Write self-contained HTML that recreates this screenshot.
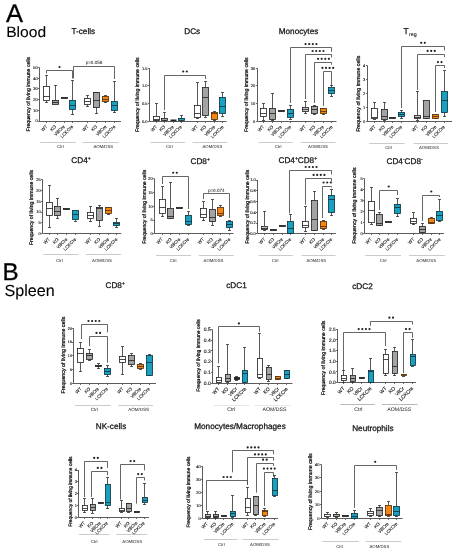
<!DOCTYPE html>
<html><head><meta charset="utf-8"><style>
html,body{margin:0;padding:0;background:#fff;width:456px;height:550px;overflow:hidden}
svg{display:block;font-family:"Liberation Sans", sans-serif;will-change:transform;text-rendering:geometricPrecision}
</style></head><body>
<svg width="456" height="550" viewBox="0 0 456 550" font-family='"Liberation Sans", sans-serif'>
<rect width="456" height="550" fill="#fff"/>
<text x="6.0" y="21.7" font-size="25.5" text-anchor="start" fill="#000" stroke="#000" stroke-width="0.3">A</text>
<text x="6.2" y="37.3" font-size="15.0" text-anchor="start" fill="#000" stroke="#000" stroke-width="0.08" textLength="40" lengthAdjust="spacingAndGlyphs">Blood</text>
<text x="2.6" y="280.1" font-size="24.2" text-anchor="start" fill="#000" stroke="#000" stroke-width="0.3">B</text>
<text x="4.6" y="295.6" font-size="16.1" text-anchor="start" fill="#000" stroke="#000" stroke-width="0.1">Spleen</text>
<path d="M39.5,67.5 V121.5 H121" fill="none" stroke="#4a4a4a" stroke-width="0.9"/>
<path d="M38.0,67.5 H39.5" stroke="#4a4a4a" stroke-width="0.8"/>
<text x="37.7" y="68.9" font-size="4.0" text-anchor="end" fill="#222" stroke="#222" stroke-width="0.15">50</text>
<path d="M38.0,78.5 H39.5" stroke="#4a4a4a" stroke-width="0.8"/>
<text x="37.7" y="79.60000000000001" font-size="4.0" text-anchor="end" fill="#222" stroke="#222" stroke-width="0.15">40</text>
<path d="M38.0,88.5 H39.5" stroke="#4a4a4a" stroke-width="0.8"/>
<text x="37.7" y="90.30000000000001" font-size="4.0" text-anchor="end" fill="#222" stroke="#222" stroke-width="0.15">30</text>
<path d="M38.0,99.5 H39.5" stroke="#4a4a4a" stroke-width="0.8"/>
<text x="37.7" y="101.0" font-size="4.0" text-anchor="end" fill="#222" stroke="#222" stroke-width="0.15">20</text>
<path d="M38.0,110.5 H39.5" stroke="#4a4a4a" stroke-width="0.8"/>
<text x="37.7" y="111.7" font-size="4.0" text-anchor="end" fill="#222" stroke="#222" stroke-width="0.15">10</text>
<path d="M38.0,121.5 H39.5" stroke="#4a4a4a" stroke-width="0.8"/>
<text x="37.7" y="122.4" font-size="4.0" text-anchor="end" fill="#222" stroke="#222" stroke-width="0.15">0</text>
<path d="M46.5,121.5 V123.0" stroke="#4a4a4a" stroke-width="0.8"/>
<path d="M46.5,75.5 V86.25 M45.0,75.5 H48.0" stroke="#3a3a3a" stroke-width="0.85"/>
<path d="M46.5,100.5 V102.5 M45.0,102.5 H48.0" stroke="#3a3a3a" stroke-width="0.85"/>
<rect x="43.5" y="86.5" width="6.0" height="14.0" fill="#ffffff" stroke="#1e1e1e" stroke-width="0.8"/>
<path d="M43.5,96.5 H49.5" stroke="#1e1e1e" stroke-width="0.8"/>
<text x="47.70" y="126.90" font-size="4.5" text-anchor="end" fill="#222" stroke="#222" stroke-width="0.14" transform="rotate(-45 47.70 126.90)">WT</text>
<path d="M55.5,121.5 V123.0" stroke="#4a4a4a" stroke-width="0.8"/>
<path d="M55.5,85.5 V100 M54.0,85.5 H57.0" stroke="#3a3a3a" stroke-width="0.85"/>
<rect x="52.5" y="100.5" width="6.0" height="4.0" fill="#a3a3a3" stroke="#1e1e1e" stroke-width="0.8"/>
<path d="M52.5,102.5 H58.5" stroke="#1e1e1e" stroke-width="0.8"/>
<text x="56.50" y="126.90" font-size="4.5" text-anchor="end" fill="#222" stroke="#222" stroke-width="0.14" transform="rotate(-45 56.50 126.90)">KO</text>
<path d="M64.5,121.5 V123.0" stroke="#4a4a4a" stroke-width="0.8"/>
<rect x="61.5" y="97.5" width="6.0" height="1.0" fill="#222" stroke="#1e1e1e" stroke-width="0.8"/>
<text x="65.20" y="126.90" font-size="4.5" text-anchor="end" fill="#222" stroke="#222" stroke-width="0.14" transform="rotate(-45 65.20 126.90)">VillCre</text>
<path d="M72.5,121.5 V123.0" stroke="#4a4a4a" stroke-width="0.8"/>
<path d="M72.5,80.5 V100 M71.0,80.5 H74.0" stroke="#3a3a3a" stroke-width="0.85"/>
<path d="M72.5,109.5 V114.5 M71.0,114.5 H74.0" stroke="#3a3a3a" stroke-width="0.85"/>
<rect x="69.5" y="100.5" width="6.0" height="9.0" fill="#17a0bf" stroke="#0c2c38" stroke-width="0.8"/>
<path d="M69.5,105.5 H75.5" stroke="#0c2c38" stroke-width="0.8"/>
<text x="73.60" y="126.90" font-size="4.5" text-anchor="end" fill="#222" stroke="#222" stroke-width="0.14" transform="rotate(-45 73.60 126.90)">LCKCre</text>
<path d="M87.5,121.5 V123.0" stroke="#4a4a4a" stroke-width="0.8"/>
<path d="M87.5,95.5 V98.75 M86.0,95.5 H89.0" stroke="#3a3a3a" stroke-width="0.85"/>
<path d="M87.5,104.5 V106.5 M86.0,106.5 H89.0" stroke="#3a3a3a" stroke-width="0.85"/>
<rect x="84.5" y="98.5" width="6.0" height="6.0" fill="#ffffff" stroke="#1e1e1e" stroke-width="0.8"/>
<path d="M84.5,101.5 H90.5" stroke="#1e1e1e" stroke-width="0.8"/>
<text x="89.00" y="126.90" font-size="4.5" text-anchor="end" fill="#222" stroke="#222" stroke-width="0.14" transform="rotate(-45 89.00 126.90)">WT</text>
<path d="M96.5,121.5 V123.0" stroke="#4a4a4a" stroke-width="0.8"/>
<path d="M96.5,92.5 V92.5 M95.0,92.5 H98.0" stroke="#3a3a3a" stroke-width="0.85"/>
<path d="M96.5,107.5 V113.5 M95.0,113.5 H98.0" stroke="#3a3a3a" stroke-width="0.85"/>
<rect x="93.5" y="92.5" width="6.0" height="15.0" fill="#a3a3a3" stroke="#1e1e1e" stroke-width="0.8"/>
<path d="M93.5,100.5 H99.5" stroke="#1e1e1e" stroke-width="0.8"/>
<text x="97.60" y="126.90" font-size="4.5" text-anchor="end" fill="#222" stroke="#222" stroke-width="0.14" transform="rotate(-45 97.60 126.90)">KO</text>
<path d="M105.5,121.5 V123.0" stroke="#4a4a4a" stroke-width="0.8"/>
<path d="M105.5,95.5 V96.75 M104.0,95.5 H107.0" stroke="#3a3a3a" stroke-width="0.85"/>
<path d="M105.5,101.25 V102.5 M104.0,102.5 H107.0" stroke="#3a3a3a" stroke-width="0.85"/>
<rect x="102.5" y="96.5" width="6.0" height="5.0" fill="#f7860f" stroke="#4a2a08" stroke-width="0.8"/>
<path d="M102.5,99.5 H108.5" stroke="#4a2a08" stroke-width="0.8"/>
<text x="107.00" y="126.90" font-size="4.5" text-anchor="end" fill="#222" stroke="#222" stroke-width="0.14" transform="rotate(-45 107.00 126.90)">VillCre</text>
<path d="M114.5,121.5 V123.0" stroke="#4a4a4a" stroke-width="0.8"/>
<path d="M114.5,81.5 V101.25 M113.0,81.5 H116.0" stroke="#3a3a3a" stroke-width="0.85"/>
<path d="M114.5,110.75 V112.5 M113.0,112.5 H116.0" stroke="#3a3a3a" stroke-width="0.85"/>
<rect x="111.5" y="101.5" width="6.0" height="9.0" fill="#17a0bf" stroke="#0c2c38" stroke-width="0.8"/>
<path d="M111.5,105.5 H117.5" stroke="#0c2c38" stroke-width="0.8"/>
<text x="115.70" y="126.90" font-size="4.5" text-anchor="end" fill="#222" stroke="#222" stroke-width="0.14" transform="rotate(-45 115.70 126.90)">LCKCre</text>
<path d="M46.5,73.5 V70.5 H72.5 V78.5" fill="none" stroke="#4a4a4a" stroke-width="0.85"/>
<circle cx="59.50" cy="67.0" r="1.1" fill="#222"/>
<path d="M73.5,78.5 V66.5 H114.5 V79" fill="none" stroke="#4a4a4a" stroke-width="0.85"/>
<text x="94" y="63.6" font-size="4.6" text-anchor="middle" fill="#333" stroke="#333" stroke-width="0.05">p=0.058</text>
<path d="M40.3,142.5 H75.8 M82.6,142.5 H118.8" stroke="#a8a8a8" stroke-width="0.6"/>
<text x="60.3" y="148.3" font-size="4.3" text-anchor="middle" fill="#1a1a1a" >Ctrl</text>
<text x="103.3" y="148.3" font-size="4.3" text-anchor="middle" fill="#1a1a1a" >AOM/DSS</text>
<text x="30.2" y="94.1" font-size="5.15" text-anchor="middle" fill="#111" stroke="#111" stroke-width="0.26" transform="rotate(-90 30.2 94.1)">Frequency of living immune cells</text>
<text x="83.3" y="34" font-size="8.2" text-anchor="middle" fill="#111" stroke="#111" stroke-width="0.25">T-cells</text>
<path d="M149.5,68.25 V121.5 H226.5" fill="none" stroke="#4a4a4a" stroke-width="0.9"/>
<path d="M148.0,68.5 H149.5" stroke="#4a4a4a" stroke-width="0.8"/>
<text x="147.45" y="69.65" font-size="4.0" text-anchor="end" fill="#222" stroke="#222" stroke-width="0.15">1.5</text>
<path d="M148.0,85.5 H149.5" stroke="#4a4a4a" stroke-width="0.8"/>
<text x="147.45" y="87.30000000000001" font-size="4.0" text-anchor="end" fill="#222" stroke="#222" stroke-width="0.15">1.0</text>
<path d="M148.0,103.5 H149.5" stroke="#4a4a4a" stroke-width="0.8"/>
<text x="147.45" y="105.0" font-size="4.0" text-anchor="end" fill="#222" stroke="#222" stroke-width="0.15">0.5</text>
<path d="M148.0,121.5 H149.5" stroke="#4a4a4a" stroke-width="0.8"/>
<text x="147.45" y="122.65" font-size="4.0" text-anchor="end" fill="#222" stroke="#222" stroke-width="0.15">0.0</text>
<path d="M156.5,121.5 V123.0" stroke="#4a4a4a" stroke-width="0.8"/>
<path d="M156.5,103.5 V116.25 M155.0,103.5 H158.0" stroke="#3a3a3a" stroke-width="0.85"/>
<path d="M156.5,120 V120.5 M155.0,120.5 H158.0" stroke="#3a3a3a" stroke-width="0.85"/>
<rect x="153.5" y="116.5" width="6.0" height="4.0" fill="#ffffff" stroke="#1e1e1e" stroke-width="0.8"/>
<path d="M153.5,119.5 H159.5" stroke="#1e1e1e" stroke-width="0.8"/>
<text x="157.35" y="127.15" font-size="4.5" text-anchor="end" fill="#222" stroke="#222" stroke-width="0.14" transform="rotate(-45 157.35 127.15)">WT</text>
<path d="M164.5,121.5 V123.0" stroke="#4a4a4a" stroke-width="0.8"/>
<path d="M164.5,112.5 V118 M163.0,112.5 H166.0" stroke="#3a3a3a" stroke-width="0.85"/>
<path d="M164.5,120 V120.5 M163.0,120.5 H166.0" stroke="#3a3a3a" stroke-width="0.85"/>
<rect x="161.5" y="118.5" width="6.0" height="2.0" fill="#a3a3a3" stroke="#1e1e1e" stroke-width="0.8"/>
<text x="165.50" y="127.15" font-size="4.5" text-anchor="end" fill="#222" stroke="#222" stroke-width="0.14" transform="rotate(-45 165.50 127.15)">KO</text>
<path d="M173.5,121.5 V123.0" stroke="#4a4a4a" stroke-width="0.8"/>
<rect x="170.5" y="119.50" width="6.0" height="1.8" fill="#222"/>
<text x="174.20" y="127.15" font-size="4.5" text-anchor="end" fill="#222" stroke="#222" stroke-width="0.14" transform="rotate(-45 174.20 127.15)">VillCre</text>
<path d="M181.5,121.5 V123.0" stroke="#4a4a4a" stroke-width="0.8"/>
<path d="M181.5,115.5 V118.5 M180.0,115.5 H183.0" stroke="#3a3a3a" stroke-width="0.85"/>
<path d="M181.5,120.5 V121.5 M180.0,121.5 H183.0" stroke="#3a3a3a" stroke-width="0.85"/>
<rect x="178.5" y="118.5" width="6.0" height="2.0" fill="#17a0bf" stroke="#0c2c38" stroke-width="0.8"/>
<text x="182.20" y="127.15" font-size="4.5" text-anchor="end" fill="#222" stroke="#222" stroke-width="0.14" transform="rotate(-45 182.20 127.15)">LCKCre</text>
<path d="M197.5,121.5 V123.0" stroke="#4a4a4a" stroke-width="0.8"/>
<path d="M197.5,82.5 V105.5 M196.0,82.5 H199.0" stroke="#3a3a3a" stroke-width="0.85"/>
<path d="M197.5,117.5 V118.5 M196.0,118.5 H199.0" stroke="#3a3a3a" stroke-width="0.85"/>
<rect x="194.5" y="105.5" width="6.0" height="12.0" fill="#ffffff" stroke="#1e1e1e" stroke-width="0.8"/>
<path d="M194.5,113.5 H200.5" stroke="#1e1e1e" stroke-width="0.8"/>
<text x="198.20" y="127.15" font-size="4.5" text-anchor="end" fill="#222" stroke="#222" stroke-width="0.14" transform="rotate(-45 198.20 127.15)">WT</text>
<path d="M205.5,121.5 V123.0" stroke="#4a4a4a" stroke-width="0.8"/>
<path d="M205.5,81.5 V87 M204.0,81.5 H207.0" stroke="#3a3a3a" stroke-width="0.85"/>
<path d="M205.5,115.5 V117.5 M204.0,117.5 H207.0" stroke="#3a3a3a" stroke-width="0.85"/>
<rect x="202.5" y="87.5" width="6.0" height="28.0" fill="#a3a3a3" stroke="#1e1e1e" stroke-width="0.8"/>
<path d="M202.5,97.5 H208.5" stroke="#1e1e1e" stroke-width="0.8"/>
<text x="206.50" y="127.15" font-size="4.5" text-anchor="end" fill="#222" stroke="#222" stroke-width="0.14" transform="rotate(-45 206.50 127.15)">KO</text>
<path d="M214.5,121.5 V123.0" stroke="#4a4a4a" stroke-width="0.8"/>
<path d="M214.5,111.5 V112 M213.0,111.5 H216.0" stroke="#3a3a3a" stroke-width="0.85"/>
<path d="M214.5,119.5 V120.5 M213.0,120.5 H216.0" stroke="#3a3a3a" stroke-width="0.85"/>
<rect x="211.5" y="112.5" width="6.0" height="7.0" fill="#f7860f" stroke="#4a2a08" stroke-width="0.8"/>
<path d="M211.5,113.5 H217.5" stroke="#4a2a08" stroke-width="0.8"/>
<text x="215.50" y="127.15" font-size="4.5" text-anchor="end" fill="#222" stroke="#222" stroke-width="0.14" transform="rotate(-45 215.50 127.15)">VillCre</text>
<path d="M222.5,121.5 V123.0" stroke="#4a4a4a" stroke-width="0.8"/>
<path d="M222.5,92.5 V97 M221.0,92.5 H224.0" stroke="#3a3a3a" stroke-width="0.85"/>
<path d="M222.5,113.75 V116.5 M221.0,116.5 H224.0" stroke="#3a3a3a" stroke-width="0.85"/>
<rect x="219.5" y="97.5" width="6.0" height="16.0" fill="#17a0bf" stroke="#0c2c38" stroke-width="0.8"/>
<path d="M219.5,106.5 H225.5" stroke="#0c2c38" stroke-width="0.8"/>
<text x="224.00" y="127.15" font-size="4.5" text-anchor="end" fill="#222" stroke="#222" stroke-width="0.14" transform="rotate(-45 224.00 127.15)">LCKCre</text>
<path d="M164.5,110 V75.5 H205.5 V79" fill="none" stroke="#4a4a4a" stroke-width="0.85"/>
<circle cx="183.20" cy="71.5" r="1.1" fill="#222"/>
<circle cx="186.80" cy="71.5" r="1.1" fill="#222"/>
<path d="M150.5,142.5 H185 M192.6,142.5 H227.3" stroke="#a8a8a8" stroke-width="0.6"/>
<text x="169.4" y="148.3" font-size="4.3" text-anchor="middle" fill="#1a1a1a" >Ctrl</text>
<text x="212.4" y="148.3" font-size="4.3" text-anchor="middle" fill="#1a1a1a" >AOM/DSS</text>
<text x="138.9" y="94.6" font-size="5.15" text-anchor="middle" fill="#111" stroke="#111" stroke-width="0.26" transform="rotate(-90 138.9 94.6)">Frequency of living immune cells</text>
<text x="192.2" y="34.4" font-size="8.2" text-anchor="middle" fill="#111" stroke="#111" stroke-width="0.25">DCs</text>
<path d="M257.5,68.25 V121.5 H336.5" fill="none" stroke="#4a4a4a" stroke-width="0.9"/>
<path d="M256.0,68.5 H257.5" stroke="#4a4a4a" stroke-width="0.8"/>
<text x="255.2" y="69.65" font-size="4.0" text-anchor="end" fill="#222" stroke="#222" stroke-width="0.15">30</text>
<path d="M256.0,85.5 H257.5" stroke="#4a4a4a" stroke-width="0.8"/>
<text x="255.2" y="87.30000000000001" font-size="4.0" text-anchor="end" fill="#222" stroke="#222" stroke-width="0.15">20</text>
<path d="M256.0,103.5 H257.5" stroke="#4a4a4a" stroke-width="0.8"/>
<text x="255.2" y="105.0" font-size="4.0" text-anchor="end" fill="#222" stroke="#222" stroke-width="0.15">10</text>
<path d="M256.0,121.5 H257.5" stroke="#4a4a4a" stroke-width="0.8"/>
<text x="255.2" y="122.65" font-size="4.0" text-anchor="end" fill="#222" stroke="#222" stroke-width="0.15">0</text>
<path d="M263.5,121.5 V123.0" stroke="#4a4a4a" stroke-width="0.8"/>
<path d="M263.5,103.5 V108.3 M262.0,103.5 H265.0" stroke="#3a3a3a" stroke-width="0.85"/>
<path d="M263.5,116.5 V120.5 M262.0,120.5 H265.0" stroke="#3a3a3a" stroke-width="0.85"/>
<rect x="260.5" y="108.5" width="6.0" height="8.0" fill="#ffffff" stroke="#1e1e1e" stroke-width="0.8"/>
<path d="M260.5,113.5 H266.5" stroke="#1e1e1e" stroke-width="0.8"/>
<text x="264.50" y="127.15" font-size="4.5" text-anchor="end" fill="#222" stroke="#222" stroke-width="0.14" transform="rotate(-45 264.50 127.15)">WT</text>
<path d="M272.5,121.5 V123.0" stroke="#4a4a4a" stroke-width="0.8"/>
<path d="M272.5,93.5 V108.3 M271.0,93.5 H274.0" stroke="#3a3a3a" stroke-width="0.85"/>
<path d="M272.5,119.4 V120.5 M271.0,120.5 H274.0" stroke="#3a3a3a" stroke-width="0.85"/>
<rect x="269.5" y="108.5" width="6.0" height="11.0" fill="#a3a3a3" stroke="#1e1e1e" stroke-width="0.8"/>
<path d="M269.5,113.5 H275.5" stroke="#1e1e1e" stroke-width="0.8"/>
<text x="273.75" y="127.15" font-size="4.5" text-anchor="end" fill="#222" stroke="#222" stroke-width="0.14" transform="rotate(-45 273.75 127.15)">KO</text>
<path d="M281.5,121.5 V123.0" stroke="#4a4a4a" stroke-width="0.8"/>
<rect x="278.5" y="110.5" width="6.0" height="1.0" fill="#222" stroke="#1e1e1e" stroke-width="0.8"/>
<text x="282.20" y="127.15" font-size="4.5" text-anchor="end" fill="#222" stroke="#222" stroke-width="0.14" transform="rotate(-45 282.20 127.15)">VillCre</text>
<path d="M290.5,121.5 V123.0" stroke="#4a4a4a" stroke-width="0.8"/>
<path d="M290.5,105.5 V109.5 M289.0,105.5 H292.0" stroke="#3a3a3a" stroke-width="0.85"/>
<path d="M290.5,117.5 V119.5 M289.0,119.5 H292.0" stroke="#3a3a3a" stroke-width="0.85"/>
<rect x="287.5" y="109.5" width="6.0" height="8.0" fill="#17a0bf" stroke="#0c2c38" stroke-width="0.8"/>
<path d="M287.5,113.5 H293.5" stroke="#0c2c38" stroke-width="0.8"/>
<text x="291.50" y="127.15" font-size="4.5" text-anchor="end" fill="#222" stroke="#222" stroke-width="0.14" transform="rotate(-45 291.50 127.15)">LCKCre</text>
<path d="M305.5,121.5 V123.0" stroke="#4a4a4a" stroke-width="0.8"/>
<path d="M305.5,101.5 V107.5 M304.0,101.5 H307.0" stroke="#3a3a3a" stroke-width="0.85"/>
<path d="M305.5,111.25 V113.5 M304.0,113.5 H307.0" stroke="#3a3a3a" stroke-width="0.85"/>
<rect x="302.5" y="107.5" width="6.0" height="4.0" fill="#c8c8c8" stroke="#1e1e1e" stroke-width="0.8"/>
<path d="M302.5,109.5 H308.5" stroke="#1e1e1e" stroke-width="0.8"/>
<text x="306.10" y="127.15" font-size="4.5" text-anchor="end" fill="#222" stroke="#222" stroke-width="0.14" transform="rotate(-45 306.10 127.15)">WT</text>
<path d="M314.5,121.5 V123.0" stroke="#4a4a4a" stroke-width="0.8"/>
<path d="M314.5,105.5 V106.25 M313.0,105.5 H316.0" stroke="#3a3a3a" stroke-width="0.85"/>
<path d="M314.5,113.25 V114.5 M313.0,114.5 H316.0" stroke="#3a3a3a" stroke-width="0.85"/>
<rect x="311.5" y="106.5" width="6.0" height="7.0" fill="#a3a3a3" stroke="#1e1e1e" stroke-width="0.8"/>
<path d="M311.5,109.5 H317.5" stroke="#1e1e1e" stroke-width="0.8"/>
<text x="315.50" y="127.15" font-size="4.5" text-anchor="end" fill="#222" stroke="#222" stroke-width="0.14" transform="rotate(-45 315.50 127.15)">KO</text>
<path d="M323.5,121.5 V123.0" stroke="#4a4a4a" stroke-width="0.8"/>
<path d="M323.5,108.5 V108.75 M322.0,108.5 H325.0" stroke="#3a3a3a" stroke-width="0.85"/>
<path d="M323.5,113.75 V114.5 M322.0,114.5 H325.0" stroke="#3a3a3a" stroke-width="0.85"/>
<rect x="320.5" y="108.5" width="6.0" height="5.0" fill="#f7860f" stroke="#4a2a08" stroke-width="0.8"/>
<path d="M320.5,111.5 H326.5" stroke="#4a2a08" stroke-width="0.8"/>
<text x="324.20" y="127.15" font-size="4.5" text-anchor="end" fill="#222" stroke="#222" stroke-width="0.14" transform="rotate(-45 324.20 127.15)">VillCre</text>
<path d="M331.5,121.5 V123.0" stroke="#4a4a4a" stroke-width="0.8"/>
<path d="M331.5,85.5 V87 M330.0,85.5 H333.0" stroke="#3a3a3a" stroke-width="0.85"/>
<path d="M331.5,93 V96.5 M330.0,96.5 H333.0" stroke="#3a3a3a" stroke-width="0.85"/>
<rect x="328.5" y="87.5" width="6.0" height="6.0" fill="#17a0bf" stroke="#0c2c38" stroke-width="0.8"/>
<path d="M328.5,90.5 H334.5" stroke="#0c2c38" stroke-width="0.8"/>
<text x="333.00" y="127.15" font-size="4.5" text-anchor="end" fill="#222" stroke="#222" stroke-width="0.14" transform="rotate(-45 333.00 127.15)">LCKCre</text>
<path d="M290.5,103 V47.5 H331.5 V51.8" fill="none" stroke="#4a4a4a" stroke-width="0.85"/>
<circle cx="305.60" cy="44.1" r="1.1" fill="#222"/>
<circle cx="309.20" cy="44.1" r="1.1" fill="#222"/>
<circle cx="312.80" cy="44.1" r="1.1" fill="#222"/>
<circle cx="316.40" cy="44.1" r="1.1" fill="#222"/>
<path d="M305.5,99 V54.5 H331.5 V57.5" fill="none" stroke="#4a4a4a" stroke-width="0.85"/>
<circle cx="312.60" cy="51.0" r="1.1" fill="#222"/>
<circle cx="316.20" cy="51.0" r="1.1" fill="#222"/>
<circle cx="319.80" cy="51.0" r="1.1" fill="#222"/>
<circle cx="323.40" cy="51.0" r="1.1" fill="#222"/>
<path d="M314.5,103 V62.5 H331.5 V64.8" fill="none" stroke="#4a4a4a" stroke-width="0.85"/>
<circle cx="318.10" cy="58.8" r="1.1" fill="#222"/>
<circle cx="321.70" cy="58.8" r="1.1" fill="#222"/>
<circle cx="325.30" cy="58.8" r="1.1" fill="#222"/>
<circle cx="328.90" cy="58.8" r="1.1" fill="#222"/>
<path d="M323.5,106 V71.5 H331.5 V85" fill="none" stroke="#4a4a4a" stroke-width="0.85"/>
<circle cx="322.40" cy="67.9" r="1.1" fill="#222"/>
<circle cx="326.00" cy="67.9" r="1.1" fill="#222"/>
<circle cx="329.60" cy="67.9" r="1.1" fill="#222"/>
<circle cx="333.20" cy="67.9" r="1.1" fill="#222"/>
<path d="M258.8,142.5 H292.8 M300.9,142.5 H335.5" stroke="#a8a8a8" stroke-width="0.6"/>
<text x="278" y="148.3" font-size="4.3" text-anchor="middle" fill="#1a1a1a" >Ctrl</text>
<text x="318" y="148.3" font-size="4.3" text-anchor="middle" fill="#1a1a1a" >AOM/DSS</text>
<text x="248.2" y="94.6" font-size="5.15" text-anchor="middle" fill="#111" stroke="#111" stroke-width="0.26" transform="rotate(-90 248.2 94.6)">Frequency of living immune cells</text>
<text x="298.5" y="33.6" font-size="8.2" text-anchor="middle" fill="#111" stroke="#111" stroke-width="0.25">Monocytes</text>
<path d="M367.5,65.5 V121.5 H452" fill="none" stroke="#4a4a4a" stroke-width="0.9"/>
<path d="M366.0,65.5 H367.5" stroke="#4a4a4a" stroke-width="0.8"/>
<text x="365.2" y="66.9" font-size="4.0" text-anchor="end" fill="#222" stroke="#222" stroke-width="0.15">4</text>
<path d="M366.0,79.5 H367.5" stroke="#4a4a4a" stroke-width="0.8"/>
<text x="365.2" y="80.80000000000001" font-size="4.0" text-anchor="end" fill="#222" stroke="#222" stroke-width="0.15">3</text>
<path d="M366.0,93.5 H367.5" stroke="#4a4a4a" stroke-width="0.8"/>
<text x="365.2" y="94.7" font-size="4.0" text-anchor="end" fill="#222" stroke="#222" stroke-width="0.15">2</text>
<path d="M366.0,107.5 H367.5" stroke="#4a4a4a" stroke-width="0.8"/>
<text x="365.2" y="108.7" font-size="4.0" text-anchor="end" fill="#222" stroke="#222" stroke-width="0.15">1</text>
<path d="M366.0,121.5 H367.5" stroke="#4a4a4a" stroke-width="0.8"/>
<text x="365.2" y="122.65" font-size="4.0" text-anchor="end" fill="#222" stroke="#222" stroke-width="0.15">0</text>
<path d="M374.5,121.5 V123.0" stroke="#4a4a4a" stroke-width="0.8"/>
<path d="M374.5,102.5 V108.25 M373.0,102.5 H376.0" stroke="#3a3a3a" stroke-width="0.85"/>
<path d="M374.5,118.75 V119.5 M373.0,119.5 H376.0" stroke="#3a3a3a" stroke-width="0.85"/>
<rect x="371.5" y="108.5" width="6.0" height="10.0" fill="#ffffff" stroke="#1e1e1e" stroke-width="0.8"/>
<path d="M371.5,117.5 H377.5" stroke="#1e1e1e" stroke-width="0.8"/>
<text x="375.85" y="127.15" font-size="4.5" text-anchor="end" fill="#222" stroke="#222" stroke-width="0.14" transform="rotate(-45 375.85 127.15)">WT</text>
<path d="M384.5,121.5 V123.0" stroke="#4a4a4a" stroke-width="0.8"/>
<path d="M384.5,102.5 V109.25 M383.0,102.5 H386.0" stroke="#3a3a3a" stroke-width="0.85"/>
<path d="M384.5,119.5 V120.5 M383.0,120.5 H386.0" stroke="#3a3a3a" stroke-width="0.85"/>
<rect x="381.5" y="109.5" width="6.0" height="10.0" fill="#a3a3a3" stroke="#1e1e1e" stroke-width="0.8"/>
<path d="M381.5,116.5 H387.5" stroke="#1e1e1e" stroke-width="0.8"/>
<text x="385.20" y="127.15" font-size="4.5" text-anchor="end" fill="#222" stroke="#222" stroke-width="0.14" transform="rotate(-45 385.20 127.15)">KO</text>
<path d="M392.5,121.5 V123.0" stroke="#4a4a4a" stroke-width="0.8"/>
<rect x="389.5" y="117.5" width="6.0" height="1.0" fill="#222" stroke="#1e1e1e" stroke-width="0.8"/>
<text x="393.70" y="127.15" font-size="4.5" text-anchor="end" fill="#222" stroke="#222" stroke-width="0.14" transform="rotate(-45 393.70 127.15)">VillCre</text>
<path d="M401.5,121.5 V123.0" stroke="#4a4a4a" stroke-width="0.8"/>
<path d="M401.5,110.5 V112.5 M400.0,110.5 H403.0" stroke="#3a3a3a" stroke-width="0.85"/>
<path d="M401.5,116.25 V118.5 M400.0,118.5 H403.0" stroke="#3a3a3a" stroke-width="0.85"/>
<rect x="398.5" y="112.5" width="6.0" height="4.0" fill="#17a0bf" stroke="#0c2c38" stroke-width="0.8"/>
<path d="M398.5,114.5 H404.5" stroke="#0c2c38" stroke-width="0.8"/>
<text x="402.50" y="127.15" font-size="4.5" text-anchor="end" fill="#222" stroke="#222" stroke-width="0.14" transform="rotate(-45 402.50 127.15)">LCKCre</text>
<path d="M417.5,121.5 V123.0" stroke="#4a4a4a" stroke-width="0.8"/>
<path d="M417.5,91.5 V115.5 M416.0,91.5 H419.0" stroke="#3a3a3a" stroke-width="0.85"/>
<path d="M417.5,118.75 V120.5 M416.0,120.5 H419.0" stroke="#3a3a3a" stroke-width="0.85"/>
<rect x="414.5" y="115.5" width="6.0" height="3.0" fill="#c8c8c8" stroke="#1e1e1e" stroke-width="0.8"/>
<path d="M414.5,117.5 H420.5" stroke="#1e1e1e" stroke-width="0.8"/>
<text x="418.50" y="127.15" font-size="4.5" text-anchor="end" fill="#222" stroke="#222" stroke-width="0.14" transform="rotate(-45 418.50 127.15)">WT</text>
<path d="M426.5,121.5 V123.0" stroke="#4a4a4a" stroke-width="0.8"/>
<path d="M426.5,118 V118.5 M425.0,118.5 H428.0" stroke="#3a3a3a" stroke-width="0.85"/>
<rect x="423.5" y="100.5" width="6.0" height="18.0" fill="#a3a3a3" stroke="#1e1e1e" stroke-width="0.8"/>
<path d="M423.5,116.5 H429.5" stroke="#1e1e1e" stroke-width="0.8"/>
<text x="427.70" y="127.15" font-size="4.5" text-anchor="end" fill="#222" stroke="#222" stroke-width="0.14" transform="rotate(-45 427.70 127.15)">KO</text>
<path d="M435.5,121.5 V123.0" stroke="#4a4a4a" stroke-width="0.8"/>
<path d="M435.5,114.5 V114.5 M434.0,114.5 H437.0" stroke="#3a3a3a" stroke-width="0.85"/>
<path d="M435.5,118 V118.5 M434.0,118.5 H437.0" stroke="#3a3a3a" stroke-width="0.85"/>
<rect x="432.5" y="114.5" width="6.0" height="4.0" fill="#f7860f" stroke="#4a2a08" stroke-width="0.8"/>
<path d="M432.5,116.5 H438.5" stroke="#4a2a08" stroke-width="0.8"/>
<text x="436.85" y="127.15" font-size="4.5" text-anchor="end" fill="#222" stroke="#222" stroke-width="0.14" transform="rotate(-45 436.85 127.15)">VillCre</text>
<path d="M444.5,121.5 V123.0" stroke="#4a4a4a" stroke-width="0.8"/>
<path d="M444.5,70.5 V91.25 M443.0,70.5 H446.0" stroke="#3a3a3a" stroke-width="0.85"/>
<path d="M444.5,112 V116.5 M443.0,116.5 H446.0" stroke="#3a3a3a" stroke-width="0.85"/>
<rect x="441.5" y="91.5" width="6.0" height="21.0" fill="#17a0bf" stroke="#0c2c38" stroke-width="0.8"/>
<path d="M441.5,100.5 H447.5" stroke="#0c2c38" stroke-width="0.8"/>
<text x="445.30" y="127.15" font-size="4.5" text-anchor="end" fill="#222" stroke="#222" stroke-width="0.14" transform="rotate(-45 445.30 127.15)">LCKCre</text>
<path d="M401.5,108 V46.5 H444.5 V50.5" fill="none" stroke="#4a4a4a" stroke-width="0.85"/>
<circle cx="421.20" cy="42.8" r="1.1" fill="#222"/>
<circle cx="424.80" cy="42.8" r="1.1" fill="#222"/>
<path d="M417.5,90 V54.5 H444.5 V57.2" fill="none" stroke="#4a4a4a" stroke-width="0.85"/>
<circle cx="427.60" cy="50.9" r="1.1" fill="#222"/>
<circle cx="431.20" cy="50.9" r="1.1" fill="#222"/>
<circle cx="434.80" cy="50.9" r="1.1" fill="#222"/>
<path d="M435.5,112 V65.5 H444.5 V68" fill="none" stroke="#4a4a4a" stroke-width="0.85"/>
<circle cx="437.90" cy="62.099999999999994" r="1.1" fill="#222"/>
<circle cx="441.50" cy="62.099999999999994" r="1.1" fill="#222"/>
<path d="M369.2,143.5 H404.7 M413.5,143.5 H448.1" stroke="#a8a8a8" stroke-width="0.6"/>
<text x="388.6" y="148.7" font-size="4.3" text-anchor="middle" fill="#1a1a1a" >Ctrl</text>
<text x="428.9" y="148.7" font-size="4.3" text-anchor="middle" fill="#1a1a1a" >AOM/DSS</text>
<text x="360.2" y="93.75" font-size="5.25" text-anchor="middle" fill="#111" stroke="#111" stroke-width="0.26" transform="rotate(-90 360.2 93.75)">Frequency of living immune cells</text>
<text x="403.6" y="33.8" font-size="8.4" fill="#111" stroke="#111" stroke-width="0.25">T<tspan font-size="5.3" dy="1.9" dx="0.3" stroke-width="0.08">reg</tspan></text>
<path d="M42.5,179.4 V233.5 H121.25" fill="none" stroke="#4a4a4a" stroke-width="0.9"/>
<path d="M41.0,179.5 H42.5" stroke="#4a4a4a" stroke-width="0.8"/>
<text x="40.7" y="180.8" font-size="4.0" text-anchor="end" fill="#222" stroke="#222" stroke-width="0.15">25</text>
<path d="M41.0,190.5 H42.5" stroke="#4a4a4a" stroke-width="0.8"/>
<text x="40.7" y="191.70000000000002" font-size="4.0" text-anchor="end" fill="#222" stroke="#222" stroke-width="0.15">20</text>
<path d="M41.0,201.5 H42.5" stroke="#4a4a4a" stroke-width="0.8"/>
<text x="40.7" y="202.6" font-size="4.0" text-anchor="end" fill="#222" stroke="#222" stroke-width="0.15">15</text>
<path d="M41.0,212.5 H42.5" stroke="#4a4a4a" stroke-width="0.8"/>
<text x="40.7" y="213.4" font-size="4.0" text-anchor="end" fill="#222" stroke="#222" stroke-width="0.15">10</text>
<path d="M41.0,222.5 H42.5" stroke="#4a4a4a" stroke-width="0.8"/>
<text x="40.7" y="224.3" font-size="4.0" text-anchor="end" fill="#222" stroke="#222" stroke-width="0.15">5</text>
<path d="M41.0,233.5 H42.5" stroke="#4a4a4a" stroke-width="0.8"/>
<text x="40.7" y="235.15" font-size="4.0" text-anchor="end" fill="#222" stroke="#222" stroke-width="0.15">0</text>
<path d="M49.5,233.5 V235.0" stroke="#4a4a4a" stroke-width="0.8"/>
<path d="M49.5,185.5 V202.5 M48.0,185.5 H51.0" stroke="#3a3a3a" stroke-width="0.85"/>
<path d="M49.5,215 V227.5 M48.0,227.5 H51.0" stroke="#3a3a3a" stroke-width="0.85"/>
<rect x="46.5" y="202.5" width="6.0" height="13.0" fill="#ffffff" stroke="#1e1e1e" stroke-width="0.8"/>
<path d="M46.5,208.5 H52.5" stroke="#1e1e1e" stroke-width="0.8"/>
<text x="50.20" y="239.65" font-size="4.5" text-anchor="end" fill="#222" stroke="#222" stroke-width="0.14" transform="rotate(-45 50.20 239.65)">WT</text>
<path d="M57.5,233.5 V235.0" stroke="#4a4a4a" stroke-width="0.8"/>
<path d="M57.5,198.5 V206.25 M56.0,198.5 H59.0" stroke="#3a3a3a" stroke-width="0.85"/>
<path d="M57.5,215 V218.5 M56.0,218.5 H59.0" stroke="#3a3a3a" stroke-width="0.85"/>
<rect x="54.5" y="206.5" width="6.0" height="9.0" fill="#a3a3a3" stroke="#1e1e1e" stroke-width="0.8"/>
<path d="M54.5,211.5 H60.5" stroke="#1e1e1e" stroke-width="0.8"/>
<text x="59.00" y="239.65" font-size="4.5" text-anchor="end" fill="#222" stroke="#222" stroke-width="0.14" transform="rotate(-45 59.00 239.65)">KO</text>
<path d="M66.5,233.5 V235.0" stroke="#4a4a4a" stroke-width="0.8"/>
<rect x="63.5" y="208.5" width="6.0" height="1.0" fill="#222" stroke="#1e1e1e" stroke-width="0.8"/>
<text x="67.70" y="239.65" font-size="4.5" text-anchor="end" fill="#222" stroke="#222" stroke-width="0.14" transform="rotate(-45 67.70 239.65)">VillCre</text>
<path d="M75.5,233.5 V235.0" stroke="#4a4a4a" stroke-width="0.8"/>
<path d="M75.5,219.5 V221.5 M74.0,221.5 H77.0" stroke="#3a3a3a" stroke-width="0.85"/>
<rect x="72.5" y="210.5" width="6.0" height="9.0" fill="#17a0bf" stroke="#0c2c38" stroke-width="0.8"/>
<path d="M72.5,214.5 H78.5" stroke="#0c2c38" stroke-width="0.8"/>
<text x="76.50" y="239.65" font-size="4.5" text-anchor="end" fill="#222" stroke="#222" stroke-width="0.14" transform="rotate(-45 76.50 239.65)">LCKCre</text>
<path d="M90.5,233.5 V235.0" stroke="#4a4a4a" stroke-width="0.8"/>
<path d="M90.5,206.5 V212.5 M89.0,206.5 H92.0" stroke="#3a3a3a" stroke-width="0.85"/>
<path d="M90.5,218 V221.5 M89.0,221.5 H92.0" stroke="#3a3a3a" stroke-width="0.85"/>
<rect x="87.5" y="212.5" width="6.0" height="6.0" fill="#ffffff" stroke="#1e1e1e" stroke-width="0.8"/>
<path d="M87.5,215.5 H93.5" stroke="#1e1e1e" stroke-width="0.8"/>
<text x="92.00" y="239.65" font-size="4.5" text-anchor="end" fill="#222" stroke="#222" stroke-width="0.14" transform="rotate(-45 92.00 239.65)">WT</text>
<path d="M99.5,233.5 V235.0" stroke="#4a4a4a" stroke-width="0.8"/>
<path d="M99.5,205.5 V207 M98.0,205.5 H101.0" stroke="#3a3a3a" stroke-width="0.85"/>
<path d="M99.5,220.5 V226.5 M98.0,226.5 H101.0" stroke="#3a3a3a" stroke-width="0.85"/>
<rect x="96.5" y="207.5" width="6.0" height="13.0" fill="#a3a3a3" stroke="#1e1e1e" stroke-width="0.8"/>
<path d="M96.5,208.5 H102.5" stroke="#1e1e1e" stroke-width="0.8"/>
<text x="100.70" y="239.65" font-size="4.5" text-anchor="end" fill="#222" stroke="#222" stroke-width="0.14" transform="rotate(-45 100.70 239.65)">KO</text>
<path d="M108.5,233.5 V235.0" stroke="#4a4a4a" stroke-width="0.8"/>
<path d="M108.5,207.5 V207.5 M107.0,207.5 H110.0" stroke="#3a3a3a" stroke-width="0.85"/>
<path d="M108.5,213.75 V214.5 M107.0,214.5 H110.0" stroke="#3a3a3a" stroke-width="0.85"/>
<rect x="105.5" y="207.5" width="6.0" height="6.0" fill="#f7860f" stroke="#4a2a08" stroke-width="0.8"/>
<path d="M105.5,210.5 H111.5" stroke="#4a2a08" stroke-width="0.8"/>
<text x="109.50" y="239.65" font-size="4.5" text-anchor="end" fill="#222" stroke="#222" stroke-width="0.14" transform="rotate(-45 109.50 239.65)">VillCre</text>
<path d="M116.5,233.5 V235.0" stroke="#4a4a4a" stroke-width="0.8"/>
<path d="M116.5,218.5 V222 M115.0,218.5 H118.0" stroke="#3a3a3a" stroke-width="0.85"/>
<path d="M116.5,225.5 V227.5 M115.0,227.5 H118.0" stroke="#3a3a3a" stroke-width="0.85"/>
<rect x="113.5" y="222.5" width="6.0" height="3.0" fill="#17a0bf" stroke="#0c2c38" stroke-width="0.8"/>
<path d="M113.5,223.5 H119.5" stroke="#0c2c38" stroke-width="0.8"/>
<text x="117.70" y="239.65" font-size="4.5" text-anchor="end" fill="#222" stroke="#222" stroke-width="0.14" transform="rotate(-45 117.70 239.65)">LCKCre</text>
<path d="M43.2,254.5 H78.2 M85.9,254.5 H121" stroke="#a8a8a8" stroke-width="0.6"/>
<text x="59.4" y="262" font-size="4.3" text-anchor="middle" fill="#1a1a1a" >Ctrl</text>
<text x="102" y="262" font-size="4.3" text-anchor="middle" fill="#1a1a1a" >AOM/DSS</text>
<text x="32.6" y="207.5" font-size="5.2" text-anchor="middle" fill="#111" stroke="#111" stroke-width="0.26" transform="rotate(-90 32.6 207.5)">Frequency of living immune cells</text>
<text x="81" y="163.1" font-size="8.2" text-anchor="middle" fill="#111" stroke="#111" stroke-width="0.25">CD4<tspan font-size="5" dy="-3">+</tspan></text>
<path d="M154.5,178.75 V233.5 H233.5" fill="none" stroke="#4a4a4a" stroke-width="0.9"/>
<path d="M153.0,178.5 H154.5" stroke="#4a4a4a" stroke-width="0.8"/>
<text x="152.7" y="180.15" font-size="4.0" text-anchor="end" fill="#222" stroke="#222" stroke-width="0.15">20</text>
<path d="M153.0,192.5 H154.5" stroke="#4a4a4a" stroke-width="0.8"/>
<text x="152.7" y="193.9" font-size="4.0" text-anchor="end" fill="#222" stroke="#222" stroke-width="0.15">15</text>
<path d="M153.0,206.5 H154.5" stroke="#4a4a4a" stroke-width="0.8"/>
<text x="152.7" y="207.65" font-size="4.0" text-anchor="end" fill="#222" stroke="#222" stroke-width="0.15">10</text>
<path d="M153.0,220.5 H154.5" stroke="#4a4a4a" stroke-width="0.8"/>
<text x="152.7" y="221.4" font-size="4.0" text-anchor="end" fill="#222" stroke="#222" stroke-width="0.15">5</text>
<path d="M153.0,233.5 H154.5" stroke="#4a4a4a" stroke-width="0.8"/>
<text x="152.7" y="235.15" font-size="4.0" text-anchor="end" fill="#222" stroke="#222" stroke-width="0.15">0</text>
<path d="M162.5,233.5 V235.0" stroke="#4a4a4a" stroke-width="0.8"/>
<path d="M162.5,186.5 V199.25 M161.0,186.5 H164.0" stroke="#3a3a3a" stroke-width="0.85"/>
<path d="M162.5,213.75 V216.5 M161.0,216.5 H164.0" stroke="#3a3a3a" stroke-width="0.85"/>
<rect x="159.5" y="199.5" width="6.0" height="14.0" fill="#ffffff" stroke="#1e1e1e" stroke-width="0.8"/>
<path d="M159.5,207.5 H165.5" stroke="#1e1e1e" stroke-width="0.8"/>
<text x="163.20" y="239.65" font-size="4.5" text-anchor="end" fill="#222" stroke="#222" stroke-width="0.14" transform="rotate(-45 163.20 239.65)">WT</text>
<path d="M170.5,233.5 V235.0" stroke="#4a4a4a" stroke-width="0.8"/>
<path d="M170.5,182.5 V208.25 M169.0,182.5 H172.0" stroke="#3a3a3a" stroke-width="0.85"/>
<path d="M170.5,218 V218.5 M169.0,218.5 H172.0" stroke="#3a3a3a" stroke-width="0.85"/>
<rect x="167.5" y="208.5" width="6.0" height="10.0" fill="#a3a3a3" stroke="#1e1e1e" stroke-width="0.8"/>
<path d="M167.5,216.5 H173.5" stroke="#1e1e1e" stroke-width="0.8"/>
<text x="172.00" y="239.65" font-size="4.5" text-anchor="end" fill="#222" stroke="#222" stroke-width="0.14" transform="rotate(-45 172.00 239.65)">KO</text>
<path d="M179.5,233.5 V235.0" stroke="#4a4a4a" stroke-width="0.8"/>
<rect x="176.5" y="207.5" width="6.0" height="1.0" fill="#222" stroke="#1e1e1e" stroke-width="0.8"/>
<text x="180.70" y="239.65" font-size="4.5" text-anchor="end" fill="#222" stroke="#222" stroke-width="0.14" transform="rotate(-45 180.70 239.65)">VillCre</text>
<path d="M188.5,233.5 V235.0" stroke="#4a4a4a" stroke-width="0.8"/>
<path d="M188.5,211.5 V215 M187.0,211.5 H190.0" stroke="#3a3a3a" stroke-width="0.85"/>
<path d="M188.5,224.5 V225.5 M187.0,225.5 H190.0" stroke="#3a3a3a" stroke-width="0.85"/>
<rect x="185.5" y="215.5" width="6.0" height="9.0" fill="#17a0bf" stroke="#0c2c38" stroke-width="0.8"/>
<path d="M185.5,221.5 H191.5" stroke="#0c2c38" stroke-width="0.8"/>
<text x="189.50" y="239.65" font-size="4.5" text-anchor="end" fill="#222" stroke="#222" stroke-width="0.14" transform="rotate(-45 189.50 239.65)">LCKCre</text>
<path d="M203.5,233.5 V235.0" stroke="#4a4a4a" stroke-width="0.8"/>
<path d="M203.5,201.5 V208.75 M202.0,201.5 H205.0" stroke="#3a3a3a" stroke-width="0.85"/>
<path d="M203.5,217 V220.5 M202.0,220.5 H205.0" stroke="#3a3a3a" stroke-width="0.85"/>
<rect x="200.5" y="208.5" width="6.0" height="9.0" fill="#ffffff" stroke="#1e1e1e" stroke-width="0.8"/>
<path d="M200.5,214.5 H206.5" stroke="#1e1e1e" stroke-width="0.8"/>
<text x="204.50" y="239.65" font-size="4.5" text-anchor="end" fill="#222" stroke="#222" stroke-width="0.14" transform="rotate(-45 204.50 239.65)">WT</text>
<path d="M212.5,233.5 V235.0" stroke="#4a4a4a" stroke-width="0.8"/>
<path d="M212.5,199.5 V209.25 M211.0,199.5 H214.0" stroke="#3a3a3a" stroke-width="0.85"/>
<path d="M212.5,221.25 V225.5 M211.0,225.5 H214.0" stroke="#3a3a3a" stroke-width="0.85"/>
<rect x="209.5" y="209.5" width="6.0" height="12.0" fill="#a3a3a3" stroke="#1e1e1e" stroke-width="0.8"/>
<path d="M209.5,217.5 H215.5" stroke="#1e1e1e" stroke-width="0.8"/>
<text x="213.20" y="239.65" font-size="4.5" text-anchor="end" fill="#222" stroke="#222" stroke-width="0.14" transform="rotate(-45 213.20 239.65)">KO</text>
<path d="M220.5,233.5 V235.0" stroke="#4a4a4a" stroke-width="0.8"/>
<path d="M220.5,205.5 V207 M219.0,205.5 H222.0" stroke="#3a3a3a" stroke-width="0.85"/>
<path d="M220.5,215.75 V216.5 M219.0,216.5 H222.0" stroke="#3a3a3a" stroke-width="0.85"/>
<rect x="217.5" y="207.5" width="6.0" height="8.0" fill="#f7860f" stroke="#4a2a08" stroke-width="0.8"/>
<path d="M217.5,213.5 H223.5" stroke="#4a2a08" stroke-width="0.8"/>
<text x="222.00" y="239.65" font-size="4.5" text-anchor="end" fill="#222" stroke="#222" stroke-width="0.14" transform="rotate(-45 222.00 239.65)">VillCre</text>
<path d="M229.5,233.5 V235.0" stroke="#4a4a4a" stroke-width="0.8"/>
<path d="M229.5,220.5 V221.25 M228.0,220.5 H231.0" stroke="#3a3a3a" stroke-width="0.85"/>
<path d="M229.5,227 V230.5 M228.0,230.5 H231.0" stroke="#3a3a3a" stroke-width="0.85"/>
<rect x="226.5" y="221.5" width="6.0" height="6.0" fill="#17a0bf" stroke="#0c2c38" stroke-width="0.8"/>
<path d="M226.5,224.5 H232.5" stroke="#0c2c38" stroke-width="0.8"/>
<text x="230.70" y="239.65" font-size="4.5" text-anchor="end" fill="#222" stroke="#222" stroke-width="0.14" transform="rotate(-45 230.70 239.65)">LCKCre</text>
<path d="M162.5,184 V176.5 H188.5 V209" fill="none" stroke="#4a4a4a" stroke-width="0.85"/>
<circle cx="173.20" cy="172.75" r="1.1" fill="#222"/>
<circle cx="176.80" cy="172.75" r="1.1" fill="#222"/>
<path d="M203.5,199 V193.5 H229.5 V218" fill="none" stroke="#4a4a4a" stroke-width="0.85"/>
<text x="216.25" y="191.5" font-size="4.6" text-anchor="middle" fill="#333" stroke="#333" stroke-width="0.05">p=0.074</text>
<path d="M156,255.5 H191 M198.7,255.5 H233.8" stroke="#a8a8a8" stroke-width="0.6"/>
<text x="173" y="262.2" font-size="4.3" text-anchor="middle" fill="#1a1a1a" >Ctrl</text>
<text x="213.5" y="262.2" font-size="4.3" text-anchor="middle" fill="#1a1a1a" >AOM/DSS</text>
<text x="145.9" y="206.75" font-size="5.1" text-anchor="middle" fill="#111" stroke="#111" stroke-width="0.26" transform="rotate(-90 145.9 206.75)">Frequency of living immune cells</text>
<text x="200.2" y="164.2" font-size="8.2" text-anchor="middle" fill="#111" stroke="#111" stroke-width="0.25">CD8<tspan font-size="5" dy="-3">+</tspan></text>
<path d="M257.5,180 V233.5 H336" fill="none" stroke="#4a4a4a" stroke-width="0.9"/>
<path d="M256.0,180.5 H257.5" stroke="#4a4a4a" stroke-width="0.8"/>
<text x="255.7" y="181.4" font-size="4.0" text-anchor="end" fill="#222" stroke="#222" stroke-width="0.15">1.0</text>
<path d="M256.0,190.5 H257.5" stroke="#4a4a4a" stroke-width="0.8"/>
<text x="255.7" y="192.15" font-size="4.0" text-anchor="end" fill="#222" stroke="#222" stroke-width="0.15">0.8</text>
<path d="M256.0,201.5 H257.5" stroke="#4a4a4a" stroke-width="0.8"/>
<text x="255.7" y="202.9" font-size="4.0" text-anchor="end" fill="#222" stroke="#222" stroke-width="0.15">0.6</text>
<path d="M256.0,212.5 H257.5" stroke="#4a4a4a" stroke-width="0.8"/>
<text x="255.7" y="213.65" font-size="4.0" text-anchor="end" fill="#222" stroke="#222" stroke-width="0.15">0.4</text>
<path d="M256.0,223.5 H257.5" stroke="#4a4a4a" stroke-width="0.8"/>
<text x="255.7" y="224.4" font-size="4.0" text-anchor="end" fill="#222" stroke="#222" stroke-width="0.15">0.2</text>
<path d="M256.0,233.5 H257.5" stroke="#4a4a4a" stroke-width="0.8"/>
<text x="255.7" y="235.15" font-size="4.0" text-anchor="end" fill="#222" stroke="#222" stroke-width="0.15">0.0</text>
<path d="M264.5,233.5 V235.0" stroke="#4a4a4a" stroke-width="0.8"/>
<path d="M264.5,211.5 V226.25 M263.0,211.5 H266.0" stroke="#3a3a3a" stroke-width="0.85"/>
<path d="M264.5,229.5 V230.5 M263.0,230.5 H266.0" stroke="#3a3a3a" stroke-width="0.85"/>
<rect x="261.5" y="226.5" width="6.0" height="3.0" fill="#c8c8c8" stroke="#1e1e1e" stroke-width="0.8"/>
<path d="M261.5,228.5 H267.5" stroke="#1e1e1e" stroke-width="0.8"/>
<text x="265.70" y="239.65" font-size="4.5" text-anchor="end" fill="#222" stroke="#222" stroke-width="0.14" transform="rotate(-45 265.70 239.65)">WT</text>
<path d="M273.5,233.5 V235.0" stroke="#4a4a4a" stroke-width="0.8"/>
<rect x="270.5" y="229.5" width="6.0" height="1.0" fill="#222" stroke="#1e1e1e" stroke-width="0.8"/>
<text x="274.50" y="239.65" font-size="4.5" text-anchor="end" fill="#222" stroke="#222" stroke-width="0.14" transform="rotate(-45 274.50 239.65)">KO</text>
<path d="M282.5,233.5 V235.0" stroke="#4a4a4a" stroke-width="0.8"/>
<rect x="279.5" y="225.5" width="6.0" height="1.0" fill="#222" stroke="#1e1e1e" stroke-width="0.8"/>
<text x="283.20" y="239.65" font-size="4.5" text-anchor="end" fill="#222" stroke="#222" stroke-width="0.14" transform="rotate(-45 283.20 239.65)">VillCre</text>
<path d="M290.5,233.5 V235.0" stroke="#4a4a4a" stroke-width="0.8"/>
<path d="M290.5,214.5 V221.25 M289.0,214.5 H292.0" stroke="#3a3a3a" stroke-width="0.85"/>
<path d="M290.5,233 V233.5 M289.0,233.5 H292.0" stroke="#3a3a3a" stroke-width="0.85"/>
<rect x="287.5" y="221.5" width="6.0" height="12.0" fill="#17a0bf" stroke="#0c2c38" stroke-width="0.8"/>
<path d="M287.5,228.5 H293.5" stroke="#0c2c38" stroke-width="0.8"/>
<text x="291.50" y="239.65" font-size="4.5" text-anchor="end" fill="#222" stroke="#222" stroke-width="0.14" transform="rotate(-45 291.50 239.65)">LCKCre</text>
<path d="M305.5,233.5 V235.0" stroke="#4a4a4a" stroke-width="0.8"/>
<path d="M305.5,206.5 V221.75 M304.0,206.5 H307.0" stroke="#3a3a3a" stroke-width="0.85"/>
<path d="M305.5,227.5 V231.5 M304.0,231.5 H307.0" stroke="#3a3a3a" stroke-width="0.85"/>
<rect x="302.5" y="221.5" width="6.0" height="6.0" fill="#ffffff" stroke="#1e1e1e" stroke-width="0.8"/>
<path d="M302.5,225.5 H308.5" stroke="#1e1e1e" stroke-width="0.8"/>
<text x="306.50" y="239.65" font-size="4.5" text-anchor="end" fill="#222" stroke="#222" stroke-width="0.14" transform="rotate(-45 306.50 239.65)">WT</text>
<path d="M314.5,233.5 V235.0" stroke="#4a4a4a" stroke-width="0.8"/>
<path d="M314.5,191.5 V200.1 M313.0,191.5 H316.0" stroke="#3a3a3a" stroke-width="0.85"/>
<path d="M314.5,230 V230.5 M313.0,230.5 H316.0" stroke="#3a3a3a" stroke-width="0.85"/>
<rect x="311.5" y="200.5" width="6.0" height="30.0" fill="#a3a3a3" stroke="#1e1e1e" stroke-width="0.8"/>
<path d="M311.5,219.5 H317.5" stroke="#1e1e1e" stroke-width="0.8"/>
<text x="315.50" y="239.65" font-size="4.5" text-anchor="end" fill="#222" stroke="#222" stroke-width="0.14" transform="rotate(-45 315.50 239.65)">KO</text>
<path d="M323.5,233.5 V235.0" stroke="#4a4a4a" stroke-width="0.8"/>
<path d="M323.5,220.5 V221.25 M322.0,220.5 H325.0" stroke="#3a3a3a" stroke-width="0.85"/>
<path d="M323.5,228 V229.5 M322.0,229.5 H325.0" stroke="#3a3a3a" stroke-width="0.85"/>
<rect x="320.5" y="221.5" width="6.0" height="7.0" fill="#f7860f" stroke="#4a2a08" stroke-width="0.8"/>
<path d="M320.5,226.5 H326.5" stroke="#4a2a08" stroke-width="0.8"/>
<text x="324.50" y="239.65" font-size="4.5" text-anchor="end" fill="#222" stroke="#222" stroke-width="0.14" transform="rotate(-45 324.50 239.65)">VillCre</text>
<path d="M331.5,233.5 V235.0" stroke="#4a4a4a" stroke-width="0.8"/>
<path d="M331.5,189.5 V195.5 M330.0,189.5 H333.0" stroke="#3a3a3a" stroke-width="0.85"/>
<path d="M331.5,212.4 V215.5 M330.0,215.5 H333.0" stroke="#3a3a3a" stroke-width="0.85"/>
<rect x="328.5" y="195.5" width="6.0" height="17.0" fill="#17a0bf" stroke="#0c2c38" stroke-width="0.8"/>
<path d="M328.5,199.5 H334.5" stroke="#0c2c38" stroke-width="0.8"/>
<text x="332.60" y="239.65" font-size="4.5" text-anchor="end" fill="#222" stroke="#222" stroke-width="0.14" transform="rotate(-45 332.60 239.65)">LCKCre</text>
<path d="M289.5,213.3 V170.5 H331.5 V174.5" fill="none" stroke="#4a4a4a" stroke-width="0.85"/>
<circle cx="305.70" cy="167.0" r="1.1" fill="#222"/>
<circle cx="309.30" cy="167.0" r="1.1" fill="#222"/>
<circle cx="312.90" cy="167.0" r="1.1" fill="#222"/>
<circle cx="316.50" cy="167.0" r="1.1" fill="#222"/>
<path d="M305.5,204.7 V178.5 H331.5 V181.5" fill="none" stroke="#4a4a4a" stroke-width="0.85"/>
<circle cx="313.60" cy="174.9" r="1.1" fill="#222"/>
<circle cx="317.20" cy="174.9" r="1.1" fill="#222"/>
<circle cx="320.80" cy="174.9" r="1.1" fill="#222"/>
<circle cx="324.40" cy="174.9" r="1.1" fill="#222"/>
<path d="M322.5,218 V186.5 H331.5 V187.5" fill="none" stroke="#4a4a4a" stroke-width="0.85"/>
<circle cx="323.60" cy="182.5" r="1.1" fill="#222"/>
<circle cx="327.20" cy="182.5" r="1.1" fill="#222"/>
<circle cx="330.80" cy="182.5" r="1.1" fill="#222"/>
<path d="M258.8,255.5 H292.8 M301.5,255.5 H335.5" stroke="#a8a8a8" stroke-width="0.6"/>
<text x="275.2" y="262" font-size="4.3" text-anchor="middle" fill="#1a1a1a" >Ctrl</text>
<text x="316.3" y="262" font-size="4.3" text-anchor="middle" fill="#1a1a1a" >AOM/DSS</text>
<text x="248.5" y="206.75" font-size="5.1" text-anchor="middle" fill="#111" stroke="#111" stroke-width="0.26" transform="rotate(-90 248.5 206.75)">Frequency of living immune cells</text>
<text x="297.8" y="163.1" font-size="8.2" text-anchor="middle" fill="#111" stroke="#111" stroke-width="0.25">CD4<tspan font-size="5" dy="-3">+</tspan><tspan dy="3">CD8</tspan><tspan font-size="5" dy="-3">+</tspan></text>
<path d="M364.5,178.75 V233.5 H444" fill="none" stroke="#4a4a4a" stroke-width="0.9"/>
<path d="M363.0,178.5 H364.5" stroke="#4a4a4a" stroke-width="0.8"/>
<text x="362.7" y="180.15" font-size="4.0" text-anchor="end" fill="#222" stroke="#222" stroke-width="0.15">5</text>
<path d="M363.0,189.5 H364.5" stroke="#4a4a4a" stroke-width="0.8"/>
<text x="362.7" y="191.15" font-size="4.0" text-anchor="end" fill="#222" stroke="#222" stroke-width="0.15">4</text>
<path d="M363.0,200.5 H364.5" stroke="#4a4a4a" stroke-width="0.8"/>
<text x="362.7" y="202.15" font-size="4.0" text-anchor="end" fill="#222" stroke="#222" stroke-width="0.15">3</text>
<path d="M363.0,211.5 H364.5" stroke="#4a4a4a" stroke-width="0.8"/>
<text x="362.7" y="213.15" font-size="4.0" text-anchor="end" fill="#222" stroke="#222" stroke-width="0.15">2</text>
<path d="M363.0,222.5 H364.5" stroke="#4a4a4a" stroke-width="0.8"/>
<text x="362.7" y="224.15" font-size="4.0" text-anchor="end" fill="#222" stroke="#222" stroke-width="0.15">1</text>
<path d="M363.0,233.5 H364.5" stroke="#4a4a4a" stroke-width="0.8"/>
<text x="362.7" y="235.15" font-size="4.0" text-anchor="end" fill="#222" stroke="#222" stroke-width="0.15">0</text>
<path d="M371.5,233.5 V235.0" stroke="#4a4a4a" stroke-width="0.8"/>
<path d="M371.5,187.5 V201.25 M370.0,187.5 H373.0" stroke="#3a3a3a" stroke-width="0.85"/>
<path d="M371.5,222.5 V224.5 M370.0,224.5 H373.0" stroke="#3a3a3a" stroke-width="0.85"/>
<rect x="368.5" y="201.5" width="6.0" height="21.0" fill="#ffffff" stroke="#1e1e1e" stroke-width="0.8"/>
<path d="M368.5,210.5 H374.5" stroke="#1e1e1e" stroke-width="0.8"/>
<text x="372.20" y="239.65" font-size="4.5" text-anchor="end" fill="#222" stroke="#222" stroke-width="0.14" transform="rotate(-45 372.20 239.65)">WT</text>
<path d="M379.5,233.5 V235.0" stroke="#4a4a4a" stroke-width="0.8"/>
<path d="M379.5,212.5 V214.5 M378.0,212.5 H381.0" stroke="#3a3a3a" stroke-width="0.85"/>
<path d="M379.5,225 V225.5 M378.0,225.5 H381.0" stroke="#3a3a3a" stroke-width="0.85"/>
<rect x="376.5" y="214.5" width="6.0" height="11.0" fill="#a3a3a3" stroke="#1e1e1e" stroke-width="0.8"/>
<path d="M376.5,223.5 H382.5" stroke="#1e1e1e" stroke-width="0.8"/>
<text x="381.00" y="239.65" font-size="4.5" text-anchor="end" fill="#222" stroke="#222" stroke-width="0.14" transform="rotate(-45 381.00 239.65)">KO</text>
<path d="M388.5,233.5 V235.0" stroke="#4a4a4a" stroke-width="0.8"/>
<rect x="385.5" y="221.5" width="6.0" height="1.0" fill="#222" stroke="#1e1e1e" stroke-width="0.8"/>
<text x="389.70" y="239.65" font-size="4.5" text-anchor="end" fill="#222" stroke="#222" stroke-width="0.14" transform="rotate(-45 389.70 239.65)">VillCre</text>
<path d="M397.5,233.5 V235.0" stroke="#4a4a4a" stroke-width="0.8"/>
<path d="M397.5,198.5 V204.5 M396.0,198.5 H399.0" stroke="#3a3a3a" stroke-width="0.85"/>
<path d="M397.5,213.75 V216.5 M396.0,216.5 H399.0" stroke="#3a3a3a" stroke-width="0.85"/>
<rect x="394.5" y="204.5" width="6.0" height="9.0" fill="#17a0bf" stroke="#0c2c38" stroke-width="0.8"/>
<path d="M394.5,207.5 H400.5" stroke="#0c2c38" stroke-width="0.8"/>
<text x="398.50" y="239.65" font-size="4.5" text-anchor="end" fill="#222" stroke="#222" stroke-width="0.14" transform="rotate(-45 398.50 239.65)">LCKCre</text>
<path d="M413.5,233.5 V235.0" stroke="#4a4a4a" stroke-width="0.8"/>
<path d="M413.5,212.5 V218.75 M412.0,212.5 H415.0" stroke="#3a3a3a" stroke-width="0.85"/>
<path d="M413.5,223.25 V224.5 M412.0,224.5 H415.0" stroke="#3a3a3a" stroke-width="0.85"/>
<rect x="410.5" y="218.5" width="6.0" height="5.0" fill="#ffffff" stroke="#1e1e1e" stroke-width="0.8"/>
<path d="M410.5,221.5 H416.5" stroke="#1e1e1e" stroke-width="0.8"/>
<text x="414.70" y="239.65" font-size="4.5" text-anchor="end" fill="#222" stroke="#222" stroke-width="0.14" transform="rotate(-45 414.70 239.65)">WT</text>
<path d="M422.5,233.5 V235.0" stroke="#4a4a4a" stroke-width="0.8"/>
<path d="M422.5,223.5 V226.25 M421.0,223.5 H424.0" stroke="#3a3a3a" stroke-width="0.85"/>
<path d="M422.5,232 V232.5 M421.0,232.5 H424.0" stroke="#3a3a3a" stroke-width="0.85"/>
<rect x="419.5" y="226.5" width="6.0" height="6.0" fill="#a3a3a3" stroke="#1e1e1e" stroke-width="0.8"/>
<path d="M419.5,229.5 H425.5" stroke="#1e1e1e" stroke-width="0.8"/>
<text x="423.50" y="239.65" font-size="4.5" text-anchor="end" fill="#222" stroke="#222" stroke-width="0.14" transform="rotate(-45 423.50 239.65)">KO</text>
<path d="M431.5,233.5 V235.0" stroke="#4a4a4a" stroke-width="0.8"/>
<path d="M431.5,217.5 V218 M430.0,217.5 H433.0" stroke="#3a3a3a" stroke-width="0.85"/>
<path d="M431.5,223 V223.5 M430.0,223.5 H433.0" stroke="#3a3a3a" stroke-width="0.85"/>
<rect x="428.5" y="218.5" width="6.0" height="5.0" fill="#f7860f" stroke="#4a2a08" stroke-width="0.8"/>
<path d="M428.5,222.5 H434.5" stroke="#4a2a08" stroke-width="0.8"/>
<text x="432.20" y="239.65" font-size="4.5" text-anchor="end" fill="#222" stroke="#222" stroke-width="0.14" transform="rotate(-45 432.20 239.65)">VillCre</text>
<path d="M439.5,233.5 V235.0" stroke="#4a4a4a" stroke-width="0.8"/>
<path d="M439.5,199.5 V211.25 M438.0,199.5 H441.0" stroke="#3a3a3a" stroke-width="0.85"/>
<path d="M439.5,220 V221.5 M438.0,221.5 H441.0" stroke="#3a3a3a" stroke-width="0.85"/>
<rect x="436.5" y="211.5" width="6.0" height="9.0" fill="#17a0bf" stroke="#0c2c38" stroke-width="0.8"/>
<path d="M436.5,215.5 H442.5" stroke="#0c2c38" stroke-width="0.8"/>
<text x="441.00" y="239.65" font-size="4.5" text-anchor="end" fill="#222" stroke="#222" stroke-width="0.14" transform="rotate(-45 441.00 239.65)">LCKCre</text>
<path d="M379.5,210 V190.5 H397.5 V195" fill="none" stroke="#4a4a4a" stroke-width="0.85"/>
<circle cx="388.75" cy="186.5" r="1.1" fill="#222"/>
<path d="M422.5,221 V195.5 H439.5 V197" fill="none" stroke="#4a4a4a" stroke-width="0.85"/>
<circle cx="431.25" cy="191.5" r="1.1" fill="#222"/>
<path d="M365.2,255.5 H401 M409.1,255.5 H444.8" stroke="#a8a8a8" stroke-width="0.6"/>
<text x="383.2" y="262" font-size="4.3" text-anchor="middle" fill="#1a1a1a" >Ctrl</text>
<text x="426.2" y="262" font-size="4.3" text-anchor="middle" fill="#1a1a1a" >AOM/DSS</text>
<text x="356.4" y="205.55" font-size="5.25" text-anchor="middle" fill="#111" stroke="#111" stroke-width="0.26" transform="rotate(-90 356.4 205.55)">Frequency of living immune cells</text>
<text x="404.6" y="163.9" font-size="8.2" text-anchor="middle" fill="#111" stroke="#111" stroke-width="0.25">CD4<tspan font-size="5" dy="-3">-</tspan><tspan dy="3">CD8</tspan><tspan font-size="5" dy="-3">-</tspan></text>
<path d="M73.5,328.25 V383.5 H156" fill="none" stroke="#4a4a4a" stroke-width="0.9"/>
<path d="M72.0,328.5 H73.5" stroke="#4a4a4a" stroke-width="0.8"/>
<text x="71.95" y="329.545" font-size="3.7" text-anchor="end" fill="#222" stroke="#222" stroke-width="0.15">20</text>
<path d="M72.0,342.5 H73.5" stroke="#4a4a4a" stroke-width="0.8"/>
<text x="71.95" y="343.295" font-size="3.7" text-anchor="end" fill="#222" stroke="#222" stroke-width="0.15">15</text>
<path d="M72.0,355.5 H73.5" stroke="#4a4a4a" stroke-width="0.8"/>
<text x="71.95" y="357.045" font-size="3.7" text-anchor="end" fill="#222" stroke="#222" stroke-width="0.15">10</text>
<path d="M72.0,369.5 H73.5" stroke="#4a4a4a" stroke-width="0.8"/>
<text x="71.95" y="370.795" font-size="3.7" text-anchor="end" fill="#222" stroke="#222" stroke-width="0.15">5</text>
<path d="M72.0,383.5 H73.5" stroke="#4a4a4a" stroke-width="0.8"/>
<text x="71.95" y="384.545" font-size="3.7" text-anchor="end" fill="#222" stroke="#222" stroke-width="0.15">0</text>
<path d="M80.5,383.5 V385.0" stroke="#4a4a4a" stroke-width="0.8"/>
<path d="M80.5,342.5 V348.5 M79.0,342.5 H82.0" stroke="#3a3a3a" stroke-width="0.85"/>
<path d="M80.5,362.4 V371.5 M79.0,371.5 H82.0" stroke="#3a3a3a" stroke-width="0.85"/>
<rect x="77.5" y="348.5" width="6.0" height="14.0" fill="#ffffff" stroke="#1e1e1e" stroke-width="0.8"/>
<path d="M77.5,353.5 H83.5" stroke="#1e1e1e" stroke-width="0.8"/>
<text x="81.95" y="389.15" font-size="4.5" text-anchor="end" fill="#222" stroke="#222" stroke-width="0.14" transform="rotate(-45 81.95 389.15)">WT</text>
<path d="M89.5,383.5 V385.0" stroke="#4a4a4a" stroke-width="0.8"/>
<path d="M89.5,349.5 V353.2 M88.0,349.5 H91.0" stroke="#3a3a3a" stroke-width="0.85"/>
<path d="M89.5,359.4 V360.5 M88.0,360.5 H91.0" stroke="#3a3a3a" stroke-width="0.85"/>
<rect x="86.5" y="353.5" width="6.0" height="6.0" fill="#a3a3a3" stroke="#1e1e1e" stroke-width="0.8"/>
<path d="M86.5,355.5 H92.5" stroke="#1e1e1e" stroke-width="0.8"/>
<text x="90.80" y="389.15" font-size="4.5" text-anchor="end" fill="#222" stroke="#222" stroke-width="0.14" transform="rotate(-45 90.80 389.15)">KO</text>
<path d="M98.5,383.5 V385.0" stroke="#4a4a4a" stroke-width="0.8"/>
<path d="M98.5,363.5 V365.2 M97.0,363.5 H100.0" stroke="#3a3a3a" stroke-width="0.85"/>
<path d="M98.5,366 V368.5 M97.0,368.5 H100.0" stroke="#3a3a3a" stroke-width="0.85"/>
<rect x="95.5" y="365.5" width="6.0" height="1.0" fill="#222" stroke="#1e1e1e" stroke-width="0.8"/>
<text x="99.40" y="389.15" font-size="4.5" text-anchor="end" fill="#222" stroke="#222" stroke-width="0.14" transform="rotate(-45 99.40 389.15)">VillCre</text>
<path d="M107.5,383.5 V385.0" stroke="#4a4a4a" stroke-width="0.8"/>
<path d="M107.5,365.5 V368 M106.0,365.5 H109.0" stroke="#3a3a3a" stroke-width="0.85"/>
<path d="M107.5,374.8 V376.5 M106.0,376.5 H109.0" stroke="#3a3a3a" stroke-width="0.85"/>
<rect x="104.5" y="368.5" width="6.0" height="6.0" fill="#17a0bf" stroke="#0c2c38" stroke-width="0.8"/>
<path d="M104.5,371.5 H110.5" stroke="#0c2c38" stroke-width="0.8"/>
<text x="108.20" y="389.15" font-size="4.5" text-anchor="end" fill="#222" stroke="#222" stroke-width="0.14" transform="rotate(-45 108.20 389.15)">LCKCre</text>
<path d="M122.5,383.5 V385.0" stroke="#4a4a4a" stroke-width="0.8"/>
<path d="M122.5,346.5 V356.4 M121.0,346.5 H124.0" stroke="#3a3a3a" stroke-width="0.85"/>
<path d="M122.5,362.4 V374.5 M121.0,374.5 H124.0" stroke="#3a3a3a" stroke-width="0.85"/>
<rect x="119.5" y="356.5" width="6.0" height="6.0" fill="#ffffff" stroke="#1e1e1e" stroke-width="0.8"/>
<path d="M119.5,359.5 H125.5" stroke="#1e1e1e" stroke-width="0.8"/>
<text x="123.90" y="389.15" font-size="4.5" text-anchor="end" fill="#222" stroke="#222" stroke-width="0.14" transform="rotate(-45 123.90 389.15)">WT</text>
<path d="M131.5,383.5 V385.0" stroke="#4a4a4a" stroke-width="0.8"/>
<path d="M131.5,353.5 V355.4 M130.0,353.5 H133.0" stroke="#3a3a3a" stroke-width="0.85"/>
<path d="M131.5,364.4 V366.5 M130.0,366.5 H133.0" stroke="#3a3a3a" stroke-width="0.85"/>
<rect x="128.5" y="355.5" width="6.0" height="9.0" fill="#a3a3a3" stroke="#1e1e1e" stroke-width="0.8"/>
<path d="M128.5,360.5 H134.5" stroke="#1e1e1e" stroke-width="0.8"/>
<text x="132.55" y="389.15" font-size="4.5" text-anchor="end" fill="#222" stroke="#222" stroke-width="0.14" transform="rotate(-45 132.55 389.15)">KO</text>
<path d="M140.5,383.5 V385.0" stroke="#4a4a4a" stroke-width="0.8"/>
<path d="M140.5,363.5 V364 M139.0,363.5 H142.0" stroke="#3a3a3a" stroke-width="0.85"/>
<path d="M140.5,368.8 V369.5 M139.0,369.5 H142.0" stroke="#3a3a3a" stroke-width="0.85"/>
<rect x="137.5" y="364.5" width="6.0" height="4.0" fill="#f7860f" stroke="#4a2a08" stroke-width="0.8"/>
<path d="M137.5,366.5 H143.5" stroke="#4a2a08" stroke-width="0.8"/>
<text x="141.50" y="389.15" font-size="4.5" text-anchor="end" fill="#222" stroke="#222" stroke-width="0.14" transform="rotate(-45 141.50 389.15)">VillCre</text>
<path d="M149.5,383.5 V385.0" stroke="#4a4a4a" stroke-width="0.8"/>
<path d="M149.5,354.5 V355 M148.0,354.5 H151.0" stroke="#3a3a3a" stroke-width="0.85"/>
<path d="M149.5,375 V375.5 M148.0,375.5 H151.0" stroke="#3a3a3a" stroke-width="0.85"/>
<rect x="146.5" y="355.5" width="6.0" height="20.0" fill="#17a0bf" stroke="#0c2c38" stroke-width="0.8"/>
<path d="M146.5,362.5 H152.5" stroke="#0c2c38" stroke-width="0.8"/>
<text x="150.20" y="389.15" font-size="4.5" text-anchor="end" fill="#222" stroke="#222" stroke-width="0.14" transform="rotate(-45 150.20 389.15)">LCKCre</text>
<path d="M81.5,339 V324.5 H107.5 V332.4" fill="none" stroke="#4a4a4a" stroke-width="0.85"/>
<circle cx="88.50" cy="321.0" r="1.1" fill="#222"/>
<circle cx="92.10" cy="321.0" r="1.1" fill="#222"/>
<circle cx="95.70" cy="321.0" r="1.1" fill="#222"/>
<circle cx="99.30" cy="321.0" r="1.1" fill="#222"/>
<path d="M89.5,346.2 V336.5 H107.5 V362.7" fill="none" stroke="#4a4a4a" stroke-width="0.85"/>
<circle cx="96.50" cy="332.9" r="1.1" fill="#222"/>
<circle cx="100.10" cy="332.9" r="1.1" fill="#222"/>
<path d="M74.9,405.5 H110.5 M118.4,405.5 H152.9" stroke="#a8a8a8" stroke-width="0.6"/>
<text x="94.2" y="411.4" font-size="4.5" text-anchor="middle" fill="#1a1a1a" >Ctrl</text>
<text x="138.6" y="411.4" font-size="4.5" text-anchor="middle" fill="#1a1a1a" >AOM/DSS</text>
<text x="65.2" y="355" font-size="5.3" text-anchor="middle" fill="#111" stroke="#111" stroke-width="0.26" transform="rotate(-90 65.2 355)">Frequency of living immune cells</text>
<text x="115.2" y="288" font-size="8.2" text-anchor="middle" fill="#111" stroke="#111" stroke-width="0.25">CD8<tspan font-size="5" dy="-3">+</tspan></text>
<path d="M212.5,329.5 V383.5 H292.4" fill="none" stroke="#4a4a4a" stroke-width="0.9"/>
<path d="M211.0,329.5 H212.5" stroke="#4a4a4a" stroke-width="0.8"/>
<text x="210.7" y="331.25" font-size="5.0" text-anchor="end" fill="#222" stroke="#222" stroke-width="0.15">0.5</text>
<path d="M211.0,340.5 H212.5" stroke="#4a4a4a" stroke-width="0.8"/>
<text x="210.7" y="341.95" font-size="5.0" text-anchor="end" fill="#222" stroke="#222" stroke-width="0.15">0.4</text>
<path d="M211.0,350.5 H212.5" stroke="#4a4a4a" stroke-width="0.8"/>
<text x="210.7" y="352.65" font-size="5.0" text-anchor="end" fill="#222" stroke="#222" stroke-width="0.15">0.3</text>
<path d="M211.0,361.5 H212.5" stroke="#4a4a4a" stroke-width="0.8"/>
<text x="210.7" y="363.35" font-size="5.0" text-anchor="end" fill="#222" stroke="#222" stroke-width="0.15">0.2</text>
<path d="M211.0,372.5 H212.5" stroke="#4a4a4a" stroke-width="0.8"/>
<text x="210.7" y="374.05" font-size="5.0" text-anchor="end" fill="#222" stroke="#222" stroke-width="0.15">0.1</text>
<path d="M211.0,383.5 H212.5" stroke="#4a4a4a" stroke-width="0.8"/>
<text x="210.7" y="384.75" font-size="5.0" text-anchor="end" fill="#222" stroke="#222" stroke-width="0.15">0.0</text>
<path d="M218.5,383.5 V385.0" stroke="#4a4a4a" stroke-width="0.8"/>
<path d="M218.5,366.5 V377.8 M217.0,366.5 H220.0" stroke="#3a3a3a" stroke-width="0.85"/>
<path d="M218.5,382.5 V382.5 M217.0,382.5 H220.0" stroke="#3a3a3a" stroke-width="0.85"/>
<rect x="216.5" y="377.5" width="5.0" height="5.0" fill="#ffffff" stroke="#1e1e1e" stroke-width="0.8"/>
<path d="M216.5,380.5 H221.5" stroke="#1e1e1e" stroke-width="0.8"/>
<text x="219.75" y="389.20" font-size="5.0" text-anchor="end" fill="#222" stroke="#222" stroke-width="0.14" transform="rotate(-45 219.75 389.20)">WT</text>
<path d="M227.5,383.5 V385.0" stroke="#4a4a4a" stroke-width="0.8"/>
<path d="M227.5,344.5 V374.2 M226.0,344.5 H229.0" stroke="#3a3a3a" stroke-width="0.85"/>
<path d="M227.5,381.5 V382.5 M226.0,382.5 H229.0" stroke="#3a3a3a" stroke-width="0.85"/>
<rect x="225.5" y="374.5" width="5.0" height="7.0" fill="#a3a3a3" stroke="#1e1e1e" stroke-width="0.8"/>
<path d="M225.5,378.5 H230.5" stroke="#1e1e1e" stroke-width="0.8"/>
<text x="228.85" y="389.20" font-size="5.0" text-anchor="end" fill="#222" stroke="#222" stroke-width="0.14" transform="rotate(-45 228.85 389.20)">KO</text>
<path d="M236.5,383.5 V385.0" stroke="#4a4a4a" stroke-width="0.8"/>
<path d="M236.5,376.5 V377.4 M235.0,376.5 H238.0" stroke="#3a3a3a" stroke-width="0.85"/>
<path d="M236.5,379 V380.5 M235.0,380.5 H238.0" stroke="#3a3a3a" stroke-width="0.85"/>
<rect x="234.5" y="377.5" width="5.0" height="2.0" fill="#222" stroke="#1e1e1e" stroke-width="0.8"/>
<text x="237.75" y="389.20" font-size="5.0" text-anchor="end" fill="#222" stroke="#222" stroke-width="0.14" transform="rotate(-45 237.75 389.20)">VilCr</text>
<path d="M244.5,383.5 V385.0" stroke="#4a4a4a" stroke-width="0.8"/>
<path d="M244.5,347.5 V370.9 M243.0,347.5 H246.0" stroke="#3a3a3a" stroke-width="0.85"/>
<path d="M244.5,382.7 V382.5 M243.0,382.5 H246.0" stroke="#3a3a3a" stroke-width="0.85"/>
<rect x="242.5" y="370.5" width="5.0" height="12.0" fill="#17a0bf" stroke="#0c2c38" stroke-width="0.8"/>
<path d="M242.5,373.5 H247.5" stroke="#0c2c38" stroke-width="0.8"/>
<text x="246.65" y="389.20" font-size="5.0" text-anchor="end" fill="#222" stroke="#222" stroke-width="0.14" transform="rotate(-45 246.65 389.20)">LCKCre</text>
<path d="M259.5,383.5 V385.0" stroke="#4a4a4a" stroke-width="0.8"/>
<path d="M259.5,333.5 V358.4 M258.0,333.5 H261.0" stroke="#3a3a3a" stroke-width="0.85"/>
<path d="M259.5,377.2 V378.5 M258.0,378.5 H261.0" stroke="#3a3a3a" stroke-width="0.85"/>
<rect x="257.5" y="358.5" width="5.0" height="19.0" fill="#ffffff" stroke="#1e1e1e" stroke-width="0.8"/>
<path d="M257.5,374.5 H262.5" stroke="#1e1e1e" stroke-width="0.8"/>
<text x="261.15" y="389.20" font-size="5.0" text-anchor="end" fill="#222" stroke="#222" stroke-width="0.14" transform="rotate(-45 261.15 389.20)">WT</text>
<path d="M268.5,383.5 V385.0" stroke="#4a4a4a" stroke-width="0.8"/>
<path d="M268.5,365.5 V367.3 M267.0,365.5 H270.0" stroke="#3a3a3a" stroke-width="0.85"/>
<path d="M268.5,379.1 V381.5 M267.0,381.5 H270.0" stroke="#3a3a3a" stroke-width="0.85"/>
<rect x="266.5" y="367.5" width="5.0" height="12.0" fill="#a3a3a3" stroke="#1e1e1e" stroke-width="0.8"/>
<path d="M266.5,374.5 H271.5" stroke="#1e1e1e" stroke-width="0.8"/>
<text x="270.35" y="389.20" font-size="5.0" text-anchor="end" fill="#222" stroke="#222" stroke-width="0.14" transform="rotate(-45 270.35 389.20)">KO</text>
<path d="M277.5,383.5 V385.0" stroke="#4a4a4a" stroke-width="0.8"/>
<path d="M277.5,376.5 V376.2 M276.0,376.5 H279.0" stroke="#3a3a3a" stroke-width="0.85"/>
<path d="M277.5,379.1 V379.5 M276.0,379.5 H279.0" stroke="#3a3a3a" stroke-width="0.85"/>
<rect x="275.5" y="376.5" width="5.0" height="3.0" fill="#f7860f" stroke="#4a2a08" stroke-width="0.8"/>
<path d="M275.5,378.5 H280.5" stroke="#4a2a08" stroke-width="0.8"/>
<text x="279.65" y="389.20" font-size="5.0" text-anchor="end" fill="#222" stroke="#222" stroke-width="0.14" transform="rotate(-45 279.65 389.20)">VilCr</text>
<path d="M286.5,383.5 V385.0" stroke="#4a4a4a" stroke-width="0.8"/>
<path d="M286.5,370.5 V370.9 M285.0,370.5 H288.0" stroke="#3a3a3a" stroke-width="0.85"/>
<path d="M286.5,378.2 V378.5 M285.0,378.5 H288.0" stroke="#3a3a3a" stroke-width="0.85"/>
<rect x="284.5" y="370.5" width="5.0" height="8.0" fill="#17a0bf" stroke="#0c2c38" stroke-width="0.8"/>
<path d="M284.5,374.5 H289.5" stroke="#0c2c38" stroke-width="0.8"/>
<text x="288.35" y="389.20" font-size="5.0" text-anchor="end" fill="#222" stroke="#222" stroke-width="0.14" transform="rotate(-45 288.35 389.20)">LCKCre</text>
<path d="M218.5,363.4 V326.5 H259.5 V331.8" fill="none" stroke="#4a4a4a" stroke-width="0.85"/>
<circle cx="238.90" cy="323.4" r="1.1" fill="#222"/>
<path d="M214,405.5 H249 M254,405.5 H291" stroke="#d8d8d8" stroke-width="0.6"/>
<text x="231.2" y="411" font-size="5.2" text-anchor="middle" fill="#1a1a1a" >Ctrl</text>
<text x="274.5" y="411" font-size="5.2" text-anchor="middle" fill="#1a1a1a" >AOM/DSS</text>
<text x="200.5" y="355.4" font-size="5.0" text-anchor="middle" fill="#111" stroke="#111" stroke-width="0.26" transform="rotate(-90 200.5 355.4)">Frequency of living immune cells</text>
<text x="236.5" y="288.4" font-size="8.2" text-anchor="middle" fill="#111" stroke="#111" stroke-width="0.25">cDC1</text>
<path d="M337.5,329.25 V382.5 H416" fill="none" stroke="#4a4a4a" stroke-width="0.9"/>
<path d="M336.0,329.5 H337.5" stroke="#4a4a4a" stroke-width="0.8"/>
<text x="335.7" y="330.93" font-size="4.8" text-anchor="end" fill="#222" stroke="#222" stroke-width="0.15">2.5</text>
<path d="M336.0,339.5 H337.5" stroke="#4a4a4a" stroke-width="0.8"/>
<text x="335.7" y="341.58" font-size="4.8" text-anchor="end" fill="#222" stroke="#222" stroke-width="0.15">2.0</text>
<path d="M336.0,350.5 H337.5" stroke="#4a4a4a" stroke-width="0.8"/>
<text x="335.7" y="352.28000000000003" font-size="4.8" text-anchor="end" fill="#222" stroke="#222" stroke-width="0.15">1.5</text>
<path d="M336.0,361.5 H337.5" stroke="#4a4a4a" stroke-width="0.8"/>
<text x="335.7" y="362.88" font-size="4.8" text-anchor="end" fill="#222" stroke="#222" stroke-width="0.15">1.0</text>
<path d="M336.0,371.5 H337.5" stroke="#4a4a4a" stroke-width="0.8"/>
<text x="335.7" y="373.58" font-size="4.8" text-anchor="end" fill="#222" stroke="#222" stroke-width="0.15">0.5</text>
<path d="M336.0,382.5 H337.5" stroke="#4a4a4a" stroke-width="0.8"/>
<text x="335.7" y="384.18" font-size="4.8" text-anchor="end" fill="#222" stroke="#222" stroke-width="0.15">0.0</text>
<path d="M343.5,382.5 V384.0" stroke="#4a4a4a" stroke-width="0.8"/>
<path d="M343.5,370.5 V375 M342.0,370.5 H345.0" stroke="#3a3a3a" stroke-width="0.85"/>
<path d="M343.5,380.5 V382.5 M342.0,382.5 H345.0" stroke="#3a3a3a" stroke-width="0.85"/>
<rect x="341.5" y="375.5" width="5.0" height="5.0" fill="#ffffff" stroke="#1e1e1e" stroke-width="0.8"/>
<path d="M341.5,378.5 H346.5" stroke="#1e1e1e" stroke-width="0.8"/>
<text x="344.90" y="388.70" font-size="5.0" text-anchor="end" fill="#222" stroke="#222" stroke-width="0.14" transform="rotate(-45 344.90 388.70)">WT</text>
<path d="M352.5,382.5 V384.0" stroke="#4a4a4a" stroke-width="0.8"/>
<path d="M352.5,368.5 V375 M351.0,368.5 H354.0" stroke="#3a3a3a" stroke-width="0.85"/>
<path d="M352.5,381.25 V382.5 M351.0,382.5 H354.0" stroke="#3a3a3a" stroke-width="0.85"/>
<rect x="350.5" y="375.5" width="5.0" height="6.0" fill="#a3a3a3" stroke="#1e1e1e" stroke-width="0.8"/>
<path d="M350.5,378.5 H355.5" stroke="#1e1e1e" stroke-width="0.8"/>
<text x="354.00" y="388.70" font-size="5.0" text-anchor="end" fill="#222" stroke="#222" stroke-width="0.14" transform="rotate(-45 354.00 388.70)">KO</text>
<path d="M361.5,382.5 V384.0" stroke="#4a4a4a" stroke-width="0.8"/>
<rect x="359.5" y="377.5" width="5.0" height="1.0" fill="#222" stroke="#1e1e1e" stroke-width="0.8"/>
<text x="362.90" y="388.70" font-size="5.0" text-anchor="end" fill="#222" stroke="#222" stroke-width="0.14" transform="rotate(-45 362.90 388.70)">VilCr</text>
<path d="M370.5,382.5 V384.0" stroke="#4a4a4a" stroke-width="0.8"/>
<path d="M370.5,358.5 V370.5 M369.0,358.5 H372.0" stroke="#3a3a3a" stroke-width="0.85"/>
<path d="M370.5,382 V382.5 M369.0,382.5 H372.0" stroke="#3a3a3a" stroke-width="0.85"/>
<rect x="368.5" y="370.5" width="5.0" height="12.0" fill="#17a0bf" stroke="#0c2c38" stroke-width="0.8"/>
<path d="M368.5,371.5 H373.5" stroke="#0c2c38" stroke-width="0.8"/>
<text x="372.10" y="388.70" font-size="5.0" text-anchor="end" fill="#222" stroke="#222" stroke-width="0.14" transform="rotate(-45 372.10 388.70)">LCKCre</text>
<path d="M385.5,382.5 V384.0" stroke="#4a4a4a" stroke-width="0.8"/>
<path d="M385.5,349.5 V354.7 M384.0,349.5 H387.0" stroke="#3a3a3a" stroke-width="0.85"/>
<path d="M385.5,373.75 V375.5 M384.0,375.5 H387.0" stroke="#3a3a3a" stroke-width="0.85"/>
<rect x="383.5" y="354.5" width="5.0" height="19.0" fill="#ffffff" stroke="#1e1e1e" stroke-width="0.8"/>
<path d="M383.5,359.5 H388.5" stroke="#1e1e1e" stroke-width="0.8"/>
<text x="386.90" y="388.70" font-size="5.0" text-anchor="end" fill="#222" stroke="#222" stroke-width="0.14" transform="rotate(-45 386.90 388.70)">WT</text>
<path d="M394.5,382.5 V384.0" stroke="#4a4a4a" stroke-width="0.8"/>
<path d="M394.5,347.5 V351 M393.0,347.5 H396.0" stroke="#3a3a3a" stroke-width="0.85"/>
<path d="M394.5,373.75 V375.5 M393.0,375.5 H396.0" stroke="#3a3a3a" stroke-width="0.85"/>
<rect x="392.5" y="351.5" width="5.0" height="22.0" fill="#a3a3a3" stroke="#1e1e1e" stroke-width="0.8"/>
<path d="M392.5,366.5 H397.5" stroke="#1e1e1e" stroke-width="0.8"/>
<text x="395.70" y="388.70" font-size="5.0" text-anchor="end" fill="#222" stroke="#222" stroke-width="0.14" transform="rotate(-45 395.70 388.70)">KO</text>
<path d="M403.5,382.5 V384.0" stroke="#4a4a4a" stroke-width="0.8"/>
<path d="M403.5,374.5 V374.25 M402.0,374.5 H405.0" stroke="#3a3a3a" stroke-width="0.85"/>
<path d="M403.5,375.5 V376.5 M402.0,376.5 H405.0" stroke="#3a3a3a" stroke-width="0.85"/>
<rect x="401.5" y="374.5" width="5.0" height="1.0" fill="#f7860f" stroke="#4a2a08" stroke-width="0.8"/>
<text x="404.60" y="388.70" font-size="5.0" text-anchor="end" fill="#222" stroke="#222" stroke-width="0.14" transform="rotate(-45 404.60 388.70)">VilCr</text>
<path d="M412.5,382.5 V384.0" stroke="#4a4a4a" stroke-width="0.8"/>
<path d="M412.5,339.5 V354.4 M411.0,339.5 H414.0" stroke="#3a3a3a" stroke-width="0.85"/>
<path d="M412.5,365.4 V366.5 M411.0,366.5 H414.0" stroke="#3a3a3a" stroke-width="0.85"/>
<rect x="410.5" y="354.5" width="5.0" height="11.0" fill="#17a0bf" stroke="#0c2c38" stroke-width="0.8"/>
<path d="M410.5,356.5 H415.5" stroke="#0c2c38" stroke-width="0.8"/>
<text x="413.70" y="388.70" font-size="5.0" text-anchor="end" fill="#222" stroke="#222" stroke-width="0.14" transform="rotate(-45 413.70 388.70)">LCKCre</text>
<path d="M343.5,371 V332.5 H385.5 V346" fill="none" stroke="#4a4a4a" stroke-width="0.85"/>
<circle cx="358.70" cy="329.1" r="1.1" fill="#222"/>
<circle cx="362.30" cy="329.1" r="1.1" fill="#222"/>
<circle cx="365.90" cy="329.1" r="1.1" fill="#222"/>
<circle cx="369.50" cy="329.1" r="1.1" fill="#222"/>
<path d="M370.5,325.8 V321.5 H412.5 V324.5" fill="none" stroke="#4a4a4a" stroke-width="0.85"/>
<circle cx="389.40" cy="317.7" r="1.1" fill="#222"/>
<circle cx="393.00" cy="317.7" r="1.1" fill="#222"/>
<path d="M403.5,373 V332.5 H412.5 V337.8" fill="none" stroke="#4a4a4a" stroke-width="0.85"/>
<circle cx="406.00" cy="329.1" r="1.1" fill="#222"/>
<circle cx="409.60" cy="329.1" r="1.1" fill="#222"/>
<path d="M340.4,404.5 H374.8 M382,404.5 H417.5" stroke="#888" stroke-width="0.6"/>
<text x="358.4" y="411" font-size="5.2" text-anchor="middle" fill="#1a1a1a" >Ctrl</text>
<text x="399.3" y="411" font-size="5.2" text-anchor="middle" fill="#1a1a1a" >AOM/DSS</text>
<text x="325.2" y="357.85" font-size="5.15" text-anchor="middle" fill="#111" stroke="#111" stroke-width="0.26" transform="rotate(-90 325.2 357.85)">Frequency of living immune cells</text>
<text x="362.5" y="288.75" font-size="8.2" text-anchor="middle" fill="#111" stroke="#111" stroke-width="0.25">cDC2</text>
<path d="M78.5,470 V517.5 H149" fill="none" stroke="#4a4a4a" stroke-width="0.9"/>
<path d="M77.0,470.5 H78.5" stroke="#4a4a4a" stroke-width="0.8"/>
<text x="76.95" y="471.4" font-size="4.0" text-anchor="end" fill="#222" stroke="#222" stroke-width="0.15">4</text>
<path d="M77.0,481.5 H78.5" stroke="#4a4a4a" stroke-width="0.8"/>
<text x="76.95" y="483.29999999999995" font-size="4.0" text-anchor="end" fill="#222" stroke="#222" stroke-width="0.15">3</text>
<path d="M77.0,493.5 H78.5" stroke="#4a4a4a" stroke-width="0.8"/>
<text x="76.95" y="495.15" font-size="4.0" text-anchor="end" fill="#222" stroke="#222" stroke-width="0.15">2</text>
<path d="M77.0,505.5 H78.5" stroke="#4a4a4a" stroke-width="0.8"/>
<text x="76.95" y="507.0" font-size="4.0" text-anchor="end" fill="#222" stroke="#222" stroke-width="0.15">1</text>
<path d="M77.0,517.5 H78.5" stroke="#4a4a4a" stroke-width="0.8"/>
<text x="76.95" y="518.9" font-size="4.0" text-anchor="end" fill="#222" stroke="#222" stroke-width="0.15">0</text>
<path d="M84.5,517.5 V519.0" stroke="#4a4a4a" stroke-width="0.8"/>
<path d="M84.5,498.5 V505.5 M83.0,498.5 H86.0" stroke="#3a3a3a" stroke-width="0.85"/>
<path d="M84.5,510 V512.5 M83.0,512.5 H86.0" stroke="#3a3a3a" stroke-width="0.85"/>
<rect x="82.5" y="505.5" width="5.0" height="5.0" fill="#ffffff" stroke="#1e1e1e" stroke-width="0.8"/>
<path d="M82.5,508.5 H87.5" stroke="#1e1e1e" stroke-width="0.8"/>
<text x="85.50" y="523.40" font-size="4.5" text-anchor="end" fill="#222" stroke="#222" stroke-width="0.14" transform="rotate(-45 85.50 523.40)">WT</text>
<path d="M92.5,517.5 V519.0" stroke="#4a4a4a" stroke-width="0.8"/>
<path d="M92.5,498.5 V504.5 M91.0,498.5 H94.0" stroke="#3a3a3a" stroke-width="0.85"/>
<path d="M92.5,510.75 V513.5 M91.0,513.5 H94.0" stroke="#3a3a3a" stroke-width="0.85"/>
<rect x="90.5" y="504.5" width="5.0" height="6.0" fill="#a3a3a3" stroke="#1e1e1e" stroke-width="0.8"/>
<path d="M90.5,507.5 H95.5" stroke="#1e1e1e" stroke-width="0.8"/>
<text x="93.70" y="523.40" font-size="4.5" text-anchor="end" fill="#222" stroke="#222" stroke-width="0.14" transform="rotate(-45 93.70 523.40)">KO</text>
<path d="M100.5,517.5 V519.0" stroke="#4a4a4a" stroke-width="0.8"/>
<rect x="98.5" y="502.5" width="5.0" height="1.0" fill="#222" stroke="#1e1e1e" stroke-width="0.8"/>
<text x="101.35" y="523.40" font-size="4.5" text-anchor="end" fill="#222" stroke="#222" stroke-width="0.14" transform="rotate(-45 101.35 523.40)">VillCre</text>
<path d="M107.5,517.5 V519.0" stroke="#4a4a4a" stroke-width="0.8"/>
<path d="M107.5,477.5 V484.4 M106.0,477.5 H109.0" stroke="#3a3a3a" stroke-width="0.85"/>
<path d="M107.5,505.2 V508.5 M106.0,508.5 H109.0" stroke="#3a3a3a" stroke-width="0.85"/>
<rect x="105.5" y="484.5" width="5.0" height="21.0" fill="#17a0bf" stroke="#0c2c38" stroke-width="0.8"/>
<path d="M105.5,502.5 H110.5" stroke="#0c2c38" stroke-width="0.8"/>
<text x="108.40" y="523.40" font-size="4.5" text-anchor="end" fill="#222" stroke="#222" stroke-width="0.14" transform="rotate(-45 108.40 523.40)">LCKCre</text>
<path d="M121.5,517.5 V519.0" stroke="#4a4a4a" stroke-width="0.8"/>
<path d="M121.5,500.5 V508.25 M120.0,500.5 H123.0" stroke="#3a3a3a" stroke-width="0.85"/>
<path d="M121.5,511.25 V512.5 M120.0,512.5 H123.0" stroke="#3a3a3a" stroke-width="0.85"/>
<rect x="119.5" y="508.5" width="5.0" height="3.0" fill="#ffffff" stroke="#1e1e1e" stroke-width="0.8"/>
<path d="M119.5,510.5 H124.5" stroke="#1e1e1e" stroke-width="0.8"/>
<text x="122.20" y="523.40" font-size="4.5" text-anchor="end" fill="#222" stroke="#222" stroke-width="0.14" transform="rotate(-45 122.20 523.40)">WT</text>
<path d="M128.5,517.5 V519.0" stroke="#4a4a4a" stroke-width="0.8"/>
<path d="M128.5,503.5 V503.75 M127.0,503.5 H130.0" stroke="#3a3a3a" stroke-width="0.85"/>
<path d="M128.5,511.25 V512.5 M127.0,512.5 H130.0" stroke="#3a3a3a" stroke-width="0.85"/>
<rect x="126.5" y="503.5" width="5.0" height="8.0" fill="#a3a3a3" stroke="#1e1e1e" stroke-width="0.8"/>
<path d="M126.5,508.5 H131.5" stroke="#1e1e1e" stroke-width="0.8"/>
<text x="130.00" y="523.40" font-size="4.5" text-anchor="end" fill="#222" stroke="#222" stroke-width="0.14" transform="rotate(-45 130.00 523.40)">KO</text>
<path d="M136.5,517.5 V519.0" stroke="#4a4a4a" stroke-width="0.8"/>
<rect x="134.5" y="511.5" width="5.0" height="1.0" fill="#222" stroke="#1e1e1e" stroke-width="0.8"/>
<text x="137.70" y="523.40" font-size="4.5" text-anchor="end" fill="#222" stroke="#222" stroke-width="0.14" transform="rotate(-45 137.70 523.40)">VillCre</text>
<path d="M144.5,517.5 V519.0" stroke="#4a4a4a" stroke-width="0.8"/>
<path d="M144.5,483.5 V497.4 M143.0,483.5 H146.0" stroke="#3a3a3a" stroke-width="0.85"/>
<path d="M144.5,502.8 V504.5 M143.0,504.5 H146.0" stroke="#3a3a3a" stroke-width="0.85"/>
<rect x="142.5" y="497.5" width="5.0" height="5.0" fill="#17a0bf" stroke="#0c2c38" stroke-width="0.8"/>
<path d="M142.5,500.5 H147.5" stroke="#0c2c38" stroke-width="0.8"/>
<text x="145.10" y="523.40" font-size="4.5" text-anchor="end" fill="#222" stroke="#222" stroke-width="0.14" transform="rotate(-45 145.10 523.40)">LCKCre</text>
<path d="M84.5,497 V461.5 H107.5 V467.9" fill="none" stroke="#4a4a4a" stroke-width="0.85"/>
<circle cx="94.20" cy="457.9" r="1.1" fill="#222"/>
<circle cx="97.80" cy="457.9" r="1.1" fill="#222"/>
<path d="M91.5,497 V471.5 H107.5 V475.4" fill="none" stroke="#4a4a4a" stroke-width="0.85"/>
<circle cx="97.80" cy="467.9" r="1.1" fill="#222"/>
<circle cx="101.40" cy="467.9" r="1.1" fill="#222"/>
<path d="M120.5,499.5 V464.5 H144.5 V470.3" fill="none" stroke="#4a4a4a" stroke-width="0.85"/>
<circle cx="130.60" cy="461.1" r="1.1" fill="#222"/>
<circle cx="134.20" cy="461.1" r="1.1" fill="#222"/>
<path d="M136.5,503.6 V477.5 H144.5 V480.5" fill="none" stroke="#4a4a4a" stroke-width="0.85"/>
<circle cx="138.20" cy="474.1" r="1.1" fill="#222"/>
<circle cx="141.80" cy="474.1" r="1.1" fill="#222"/>
<path d="M78.9,534.5 H109.5 M116.4,534.5 H147" stroke="#a8a8a8" stroke-width="0.6"/>
<text x="94.2" y="542.8" font-size="4.3" text-anchor="middle" fill="#1a1a1a" >Ctrl</text>
<text x="132.2" y="542.8" font-size="4.3" text-anchor="middle" fill="#1a1a1a" >AOM/DSS</text>
<text x="72.5" y="491.65" font-size="4.85" text-anchor="middle" fill="#111" stroke="#111" stroke-width="0.26" transform="rotate(-90 72.5 491.65)">Frequency of living immune cells</text>
<text x="111" y="429.4" font-size="8.2" text-anchor="middle" fill="#111" stroke="#111" stroke-width="0.25">NK-cells</text>
<path d="M202.5,466.25 V518.5 H278" fill="none" stroke="#4a4a4a" stroke-width="0.9"/>
<path d="M201.0,466.5 H202.5" stroke="#4a4a4a" stroke-width="0.8"/>
<text x="200.7" y="467.65" font-size="4.0" text-anchor="end" fill="#222" stroke="#222" stroke-width="0.15">40</text>
<path d="M201.0,479.5 H202.5" stroke="#4a4a4a" stroke-width="0.8"/>
<text x="200.7" y="480.65" font-size="4.0" text-anchor="end" fill="#222" stroke="#222" stroke-width="0.15">30</text>
<path d="M201.0,492.5 H202.5" stroke="#4a4a4a" stroke-width="0.8"/>
<text x="200.7" y="493.65" font-size="4.0" text-anchor="end" fill="#222" stroke="#222" stroke-width="0.15">20</text>
<path d="M201.0,505.5 H202.5" stroke="#4a4a4a" stroke-width="0.8"/>
<text x="200.7" y="506.65" font-size="4.0" text-anchor="end" fill="#222" stroke="#222" stroke-width="0.15">10</text>
<path d="M201.0,518.5 H202.5" stroke="#4a4a4a" stroke-width="0.8"/>
<text x="200.7" y="519.65" font-size="4.0" text-anchor="end" fill="#222" stroke="#222" stroke-width="0.15">0</text>
<path d="M207.5,518.5 V520.0" stroke="#4a4a4a" stroke-width="0.8"/>
<path d="M207.5,511.5 V514.5 M206.0,511.5 H209.0" stroke="#3a3a3a" stroke-width="0.85"/>
<path d="M207.5,517 V518.5 M206.0,518.5 H209.0" stroke="#3a3a3a" stroke-width="0.85"/>
<rect x="205.5" y="514.5" width="5.0" height="3.0" fill="#c8c8c8" stroke="#1e1e1e" stroke-width="0.8"/>
<path d="M205.5,516.5 H210.5" stroke="#1e1e1e" stroke-width="0.8"/>
<text x="208.20" y="524.15" font-size="4.5" text-anchor="end" fill="#222" stroke="#222" stroke-width="0.14" transform="rotate(-45 208.20 524.15)">WT</text>
<path d="M215.5,518.5 V520.0" stroke="#4a4a4a" stroke-width="0.8"/>
<path d="M215.5,511.5 V514.5 M214.0,511.5 H217.0" stroke="#3a3a3a" stroke-width="0.85"/>
<path d="M215.5,517 V518.5 M214.0,518.5 H217.0" stroke="#3a3a3a" stroke-width="0.85"/>
<rect x="213.5" y="514.5" width="5.0" height="3.0" fill="#a3a3a3" stroke="#1e1e1e" stroke-width="0.8"/>
<path d="M213.5,516.5 H218.5" stroke="#1e1e1e" stroke-width="0.8"/>
<text x="216.50" y="524.15" font-size="4.5" text-anchor="end" fill="#222" stroke="#222" stroke-width="0.14" transform="rotate(-45 216.50 524.15)">KO</text>
<path d="M223.5,518.5 V520.0" stroke="#4a4a4a" stroke-width="0.8"/>
<rect x="221.5" y="515.5" width="5.0" height="1.0" fill="#222" stroke="#1e1e1e" stroke-width="0.8"/>
<text x="224.85" y="524.15" font-size="4.5" text-anchor="end" fill="#222" stroke="#222" stroke-width="0.14" transform="rotate(-45 224.85 524.15)">VillCre</text>
<path d="M232.5,518.5 V520.0" stroke="#4a4a4a" stroke-width="0.8"/>
<path d="M232.5,495.5 V511 M231.0,495.5 H234.0" stroke="#3a3a3a" stroke-width="0.85"/>
<path d="M232.5,516.6 V517.5 M231.0,517.5 H234.0" stroke="#3a3a3a" stroke-width="0.85"/>
<rect x="230.5" y="511.5" width="5.0" height="5.0" fill="#17a0bf" stroke="#0c2c38" stroke-width="0.8"/>
<path d="M230.5,513.5 H235.5" stroke="#0c2c38" stroke-width="0.8"/>
<text x="233.80" y="524.15" font-size="4.5" text-anchor="end" fill="#222" stroke="#222" stroke-width="0.14" transform="rotate(-45 233.80 524.15)">LCKCre</text>
<path d="M247.5,518.5 V520.0" stroke="#4a4a4a" stroke-width="0.8"/>
<path d="M247.5,487.5 V498.5 M246.0,487.5 H249.0" stroke="#3a3a3a" stroke-width="0.85"/>
<path d="M247.5,512.6 V515.5 M246.0,515.5 H249.0" stroke="#3a3a3a" stroke-width="0.85"/>
<rect x="245.5" y="498.5" width="5.0" height="14.0" fill="#ffffff" stroke="#1e1e1e" stroke-width="0.8"/>
<path d="M245.5,507.5 H250.5" stroke="#1e1e1e" stroke-width="0.8"/>
<text x="248.60" y="524.15" font-size="4.5" text-anchor="end" fill="#222" stroke="#222" stroke-width="0.14" transform="rotate(-45 248.60 524.15)">WT</text>
<path d="M255.5,518.5 V520.0" stroke="#4a4a4a" stroke-width="0.8"/>
<path d="M255.5,496.5 V496.6 M254.0,496.5 H257.0" stroke="#3a3a3a" stroke-width="0.85"/>
<path d="M255.5,514.3 V515.5 M254.0,515.5 H257.0" stroke="#3a3a3a" stroke-width="0.85"/>
<rect x="253.5" y="496.5" width="5.0" height="18.0" fill="#a3a3a3" stroke="#1e1e1e" stroke-width="0.8"/>
<path d="M253.5,505.5 H258.5" stroke="#1e1e1e" stroke-width="0.8"/>
<text x="256.70" y="524.15" font-size="4.5" text-anchor="end" fill="#222" stroke="#222" stroke-width="0.14" transform="rotate(-45 256.70 524.15)">KO</text>
<path d="M264.5,518.5 V520.0" stroke="#4a4a4a" stroke-width="0.8"/>
<path d="M264.5,508.5 V510.5 M263.0,508.5 H266.0" stroke="#3a3a3a" stroke-width="0.85"/>
<path d="M264.5,515.5 V516.5 M263.0,516.5 H266.0" stroke="#3a3a3a" stroke-width="0.85"/>
<rect x="262.5" y="510.5" width="5.0" height="5.0" fill="#f7860f" stroke="#4a2a08" stroke-width="0.8"/>
<path d="M262.5,511.5 H267.5" stroke="#4a2a08" stroke-width="0.8"/>
<text x="266.00" y="524.15" font-size="4.5" text-anchor="end" fill="#222" stroke="#222" stroke-width="0.14" transform="rotate(-45 266.00 524.15)">VillCre</text>
<path d="M274.5,518.5 V520.0" stroke="#4a4a4a" stroke-width="0.8"/>
<path d="M274.5,475.5 V478.25 M273.0,475.5 H276.0" stroke="#3a3a3a" stroke-width="0.85"/>
<path d="M274.5,495.75 V496.5 M273.0,496.5 H276.0" stroke="#3a3a3a" stroke-width="0.85"/>
<rect x="272.5" y="478.5" width="5.0" height="17.0" fill="#17a0bf" stroke="#0c2c38" stroke-width="0.8"/>
<path d="M272.5,490.5 H277.5" stroke="#0c2c38" stroke-width="0.8"/>
<text x="275.50" y="524.15" font-size="4.5" text-anchor="end" fill="#222" stroke="#222" stroke-width="0.14" transform="rotate(-45 275.50 524.15)">LCKCre</text>
<path d="M206.5,510.4 V480.5 H247.5 V484.7" fill="none" stroke="#4a4a4a" stroke-width="0.85"/>
<circle cx="223.60" cy="477.0" r="1.1" fill="#222"/>
<circle cx="227.20" cy="477.0" r="1.1" fill="#222"/>
<circle cx="230.80" cy="477.0" r="1.1" fill="#222"/>
<path d="M232.5,472.3 V450.5 H273.5 V454.2" fill="none" stroke="#4a4a4a" stroke-width="0.85"/>
<circle cx="247.70" cy="447.4" r="1.1" fill="#222"/>
<circle cx="251.30" cy="447.4" r="1.1" fill="#222"/>
<circle cx="254.90" cy="447.4" r="1.1" fill="#222"/>
<circle cx="258.50" cy="447.4" r="1.1" fill="#222"/>
<path d="M247.5,485 V457.5 H273.5 V460.6" fill="none" stroke="#4a4a4a" stroke-width="0.85"/>
<circle cx="255.00" cy="454.4" r="1.1" fill="#222"/>
<circle cx="258.60" cy="454.4" r="1.1" fill="#222"/>
<circle cx="262.20" cy="454.4" r="1.1" fill="#222"/>
<circle cx="265.80" cy="454.4" r="1.1" fill="#222"/>
<path d="M256.5,492.6 V463.5 H273.5 V466" fill="none" stroke="#4a4a4a" stroke-width="0.85"/>
<circle cx="263.10" cy="459.7" r="1.1" fill="#222"/>
<circle cx="266.70" cy="459.7" r="1.1" fill="#222"/>
<path d="M264.5,506 V472.5 H273.5 V476.8" fill="none" stroke="#4a4a4a" stroke-width="0.85"/>
<circle cx="263.90" cy="468.6" r="1.1" fill="#222"/>
<circle cx="267.50" cy="468.6" r="1.1" fill="#222"/>
<circle cx="271.10" cy="468.6" r="1.1" fill="#222"/>
<circle cx="274.70" cy="468.6" r="1.1" fill="#222"/>
<path d="M203.75,539.5 H237.5 M242.5,539.5 H278.75" stroke="#a8a8a8" stroke-width="0.6"/>
<text x="221.25" y="545.5" font-size="4.3" text-anchor="middle" fill="#1a1a1a" >Ctrl</text>
<text x="260" y="545.5" font-size="4.3" text-anchor="middle" fill="#1a1a1a" >AOM/DSS</text>
<text x="189.7" y="492.05" font-size="4.9" text-anchor="middle" fill="#111" stroke="#111" stroke-width="0.26" transform="rotate(-90 189.7 492.05)">Frequency of living immune cells</text>
<text x="240" y="428.7" font-size="8.2" text-anchor="middle" fill="#111" stroke="#111" stroke-width="0.25">Monocytes/Macrophages</text>
<path d="M321.5,464.5 V518.5 H402.5" fill="none" stroke="#4a4a4a" stroke-width="0.9"/>
<path d="M320.0,464.5 H321.5" stroke="#4a4a4a" stroke-width="0.8"/>
<text x="319.45" y="465.9" font-size="4.0" text-anchor="end" fill="#222" stroke="#222" stroke-width="0.15">40</text>
<path d="M320.0,477.5 H321.5" stroke="#4a4a4a" stroke-width="0.8"/>
<text x="319.45" y="479.29999999999995" font-size="4.0" text-anchor="end" fill="#222" stroke="#222" stroke-width="0.15">30</text>
<path d="M320.0,491.5 H321.5" stroke="#4a4a4a" stroke-width="0.8"/>
<text x="319.45" y="492.79999999999995" font-size="4.0" text-anchor="end" fill="#222" stroke="#222" stroke-width="0.15">20</text>
<path d="M320.0,504.5 H321.5" stroke="#4a4a4a" stroke-width="0.8"/>
<text x="319.45" y="506.2" font-size="4.0" text-anchor="end" fill="#222" stroke="#222" stroke-width="0.15">10</text>
<path d="M320.0,518.5 H321.5" stroke="#4a4a4a" stroke-width="0.8"/>
<text x="319.45" y="519.65" font-size="4.0" text-anchor="end" fill="#222" stroke="#222" stroke-width="0.15">0</text>
<path d="M327.5,518.5 V520.0" stroke="#4a4a4a" stroke-width="0.8"/>
<path d="M327.5,512.5 V514.2 M326.0,512.5 H329.0" stroke="#3a3a3a" stroke-width="0.85"/>
<path d="M327.5,516.5 V517.5 M326.0,517.5 H329.0" stroke="#3a3a3a" stroke-width="0.85"/>
<rect x="324.5" y="514.5" width="6.0" height="2.0" fill="#ffffff" stroke="#1e1e1e" stroke-width="0.8"/>
<text x="328.95" y="524.15" font-size="4.5" text-anchor="end" fill="#222" stroke="#222" stroke-width="0.14" transform="rotate(-45 328.95 524.15)">WT</text>
<path d="M336.5,518.5 V520.0" stroke="#4a4a4a" stroke-width="0.8"/>
<path d="M336.5,512.5 V514.4 M335.0,512.5 H338.0" stroke="#3a3a3a" stroke-width="0.85"/>
<path d="M336.5,516.5 V517.5 M335.0,517.5 H338.0" stroke="#3a3a3a" stroke-width="0.85"/>
<rect x="333.5" y="514.5" width="6.0" height="2.0" fill="#a3a3a3" stroke="#1e1e1e" stroke-width="0.8"/>
<text x="337.65" y="524.15" font-size="4.5" text-anchor="end" fill="#222" stroke="#222" stroke-width="0.14" transform="rotate(-45 337.65 524.15)">KO</text>
<path d="M345.5,518.5 V520.0" stroke="#4a4a4a" stroke-width="0.8"/>
<rect x="342.5" y="515.5" width="6.0" height="1.0" fill="#222" stroke="#1e1e1e" stroke-width="0.8"/>
<text x="346.25" y="524.15" font-size="4.5" text-anchor="end" fill="#222" stroke="#222" stroke-width="0.14" transform="rotate(-45 346.25 524.15)">VillCre</text>
<path d="M354.5,518.5 V520.0" stroke="#4a4a4a" stroke-width="0.8"/>
<path d="M354.5,510.5 V513.8 M353.0,510.5 H356.0" stroke="#3a3a3a" stroke-width="0.85"/>
<rect x="351.5" y="513.5" width="6.0" height="5.0" fill="#17a0bf" stroke="#0c2c38" stroke-width="0.8"/>
<path d="M351.5,516.5 H357.5" stroke="#0c2c38" stroke-width="0.8"/>
<text x="355.55" y="524.15" font-size="4.5" text-anchor="end" fill="#222" stroke="#222" stroke-width="0.14" transform="rotate(-45 355.55 524.15)">LCKCre</text>
<path d="M370.5,518.5 V520.0" stroke="#4a4a4a" stroke-width="0.8"/>
<path d="M370.5,508.5 V511.2 M369.0,508.5 H372.0" stroke="#3a3a3a" stroke-width="0.85"/>
<path d="M370.5,515.2 V516.5 M369.0,516.5 H372.0" stroke="#3a3a3a" stroke-width="0.85"/>
<rect x="367.5" y="511.5" width="6.0" height="4.0" fill="#ffffff" stroke="#1e1e1e" stroke-width="0.8"/>
<path d="M367.5,513.5 H373.5" stroke="#1e1e1e" stroke-width="0.8"/>
<text x="371.15" y="524.15" font-size="4.5" text-anchor="end" fill="#222" stroke="#222" stroke-width="0.14" transform="rotate(-45 371.15 524.15)">WT</text>
<path d="M379.5,518.5 V520.0" stroke="#4a4a4a" stroke-width="0.8"/>
<path d="M379.5,505.5 V507.9 M378.0,505.5 H381.0" stroke="#3a3a3a" stroke-width="0.85"/>
<path d="M379.5,515.2 V516.5 M378.0,516.5 H381.0" stroke="#3a3a3a" stroke-width="0.85"/>
<rect x="376.5" y="507.5" width="6.0" height="8.0" fill="#a3a3a3" stroke="#1e1e1e" stroke-width="0.8"/>
<path d="M376.5,510.5 H382.5" stroke="#1e1e1e" stroke-width="0.8"/>
<text x="380.25" y="524.15" font-size="4.5" text-anchor="end" fill="#222" stroke="#222" stroke-width="0.14" transform="rotate(-45 380.25 524.15)">KO</text>
<path d="M388.5,518.5 V520.0" stroke="#4a4a4a" stroke-width="0.8"/>
<path d="M388.5,501.5 V505.3 M387.0,501.5 H390.0" stroke="#3a3a3a" stroke-width="0.85"/>
<path d="M388.5,515.2 V516.5 M387.0,516.5 H390.0" stroke="#3a3a3a" stroke-width="0.85"/>
<rect x="385.5" y="505.5" width="6.0" height="10.0" fill="#f7860f" stroke="#4a2a08" stroke-width="0.8"/>
<path d="M385.5,514.5 H391.5" stroke="#4a2a08" stroke-width="0.8"/>
<text x="389.15" y="524.15" font-size="4.5" text-anchor="end" fill="#222" stroke="#222" stroke-width="0.14" transform="rotate(-45 389.15 524.15)">VillCre</text>
<path d="M396.5,518.5 V520.0" stroke="#4a4a4a" stroke-width="0.8"/>
<path d="M396.5,472.5 V506.3 M395.0,472.5 H398.0" stroke="#3a3a3a" stroke-width="0.85"/>
<path d="M396.5,515.7 V516.5 M395.0,516.5 H398.0" stroke="#3a3a3a" stroke-width="0.85"/>
<rect x="393.5" y="506.5" width="6.0" height="9.0" fill="#17a0bf" stroke="#0c2c38" stroke-width="0.8"/>
<path d="M393.5,511.5 H399.5" stroke="#0c2c38" stroke-width="0.8"/>
<text x="397.80" y="524.15" font-size="4.5" text-anchor="end" fill="#222" stroke="#222" stroke-width="0.14" transform="rotate(-45 397.80 524.15)">LCKCre</text>
<path d="M354.5,507.9 V465.5 H396.5 V469.8" fill="none" stroke="#4a4a4a" stroke-width="0.85"/>
<circle cx="375.20" cy="461.8" r="1.1" fill="#222"/>
<path d="M322.5,541.5 H358.75 M365.5,541.5 H401.25" stroke="#a8a8a8" stroke-width="0.6"/>
<text x="339.5" y="547.8" font-size="4.3" text-anchor="middle" fill="#1a1a1a" >Ctrl</text>
<text x="379.4" y="547.8" font-size="4.3" text-anchor="middle" fill="#1a1a1a" >AOM/DSS</text>
<text x="312.2" y="491.65" font-size="5.3" text-anchor="middle" fill="#111" stroke="#111" stroke-width="0.26" transform="rotate(-90 312.2 491.65)">Frequency of living immune cells</text>
<text x="372.9" y="430.9" font-size="8.2" text-anchor="middle" fill="#111" stroke="#111" stroke-width="0.25">Neutrophils</text>
</svg>
</body></html>
